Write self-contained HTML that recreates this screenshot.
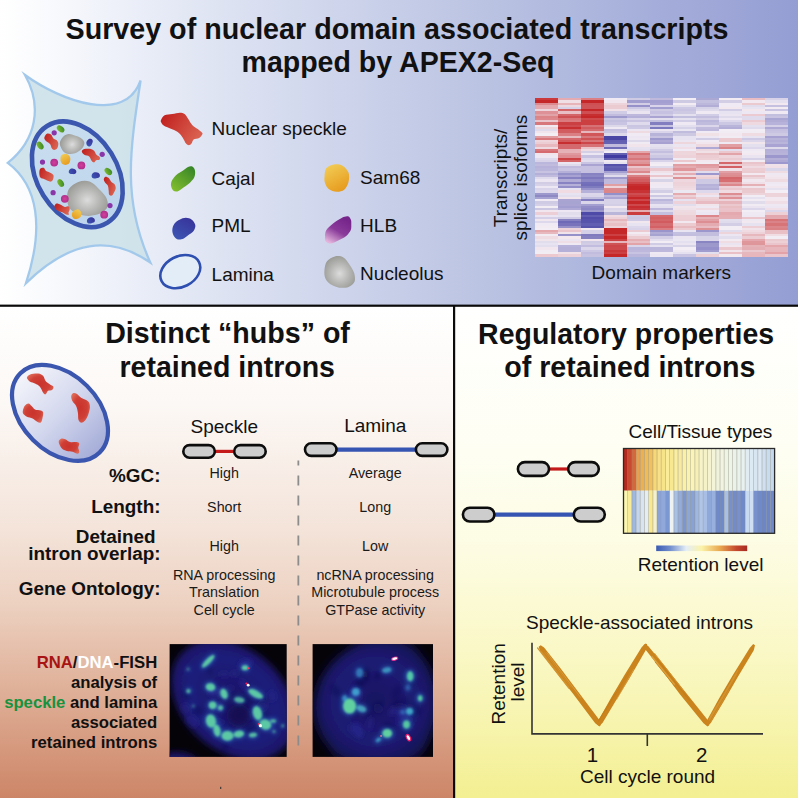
<!DOCTYPE html>
<html>
<head>
<meta charset="utf-8">
<title>Graphical abstract</title>
<style>
html,body{margin:0;padding:0;background:#fff;}
body{width:798px;height:798px;overflow:hidden;font-family:"Liberation Sans",sans-serif;}
svg{display:block;}
text{font-family:"Liberation Sans",sans-serif;fill:#111;}
.b{font-weight:bold;}
.t28{font-size:28.6px;font-weight:bold;}
.t19{font-size:19px;}
.l19{font-size:18.9px;font-weight:bold;}
.t14{font-size:14.3px;fill:#1a1a1a;}
.t16{font-size:16.7px;font-weight:bold;}
</style>
</head>
<body>
<svg width="798" height="798" viewBox="0 0 798 798">
<defs>
  <linearGradient id="gTop" x1="0" y1="0" x2="1" y2="0">
    <stop offset="0" stop-color="#ffffff"/>
    <stop offset="0.06" stop-color="#f9fafd"/>
    <stop offset="0.19" stop-color="#e8ecf7"/>
    <stop offset="0.45" stop-color="#cbd2ea"/>
    <stop offset="0.63" stop-color="#b8c1e1"/>
    <stop offset="0.82" stop-color="#a5aeda"/>
    <stop offset="1" stop-color="#959ed3"/>
  </linearGradient>
  <linearGradient id="gBL" x1="0" y1="0" x2="0" y2="1">
    <stop offset="0" stop-color="#ffffff"/>
    <stop offset="0.2" stop-color="#fcf8f5"/>
    <stop offset="0.45" stop-color="#f4e4da"/>
    <stop offset="0.6" stop-color="#edd2c2"/>
    <stop offset="0.78" stop-color="#dfb098"/>
    <stop offset="1" stop-color="#cd8567"/>
  </linearGradient>
  <linearGradient id="gBR" x1="0" y1="0" x2="0" y2="1">
    <stop offset="0" stop-color="#ffffff"/>
    <stop offset="0.3" stop-color="#fefef3"/>
    <stop offset="0.5" stop-color="#fdfce2"/>
    <stop offset="0.7" stop-color="#faf8c6"/>
    <stop offset="0.85" stop-color="#f7f4ae"/>
    <stop offset="1" stop-color="#f3ef92"/>
  </linearGradient>
  <linearGradient id="gBar" x1="0" y1="0" x2="1" y2="0">
    <stop offset="0" stop-color="#3a5ab2"/>
    <stop offset="0.15" stop-color="#6f8ccc"/>
    <stop offset="0.33" stop-color="#e4eef6"/>
    <stop offset="0.5" stop-color="#fbf3a8"/>
    <stop offset="0.7" stop-color="#e9a850"/>
    <stop offset="0.88" stop-color="#c4482c"/>
    <stop offset="1" stop-color="#a82a22"/>
  </linearGradient>
  <linearGradient id="gSpk" x1="0" y1="0" x2="1" y2="0.5">
    <stop offset="0" stop-color="#bf1b1b"/><stop offset="1" stop-color="#d9604f"/>
  </linearGradient>
  <linearGradient id="gCaj" x1="0.9" y1="0" x2="0.1" y2="1">
    <stop offset="0" stop-color="#358428"/><stop offset="1" stop-color="#84bf2c"/>
  </linearGradient>
  <linearGradient id="gPml" x1="0.8" y1="0" x2="0.2" y2="1">
    <stop offset="0" stop-color="#38339a"/><stop offset="1" stop-color="#3c55b4"/>
  </linearGradient>
  <linearGradient id="gSam" x1="0.2" y1="0" x2="0.7" y2="1">
    <stop offset="0" stop-color="#f2cc55"/><stop offset="1" stop-color="#e69a1c"/>
  </linearGradient>
  <linearGradient id="gHlb" x1="0.75" y1="0.1" x2="0.25" y2="1">
    <stop offset="0" stop-color="#76258a"/><stop offset="0.5" stop-color="#8a3b9a"/><stop offset="1" stop-color="#e3b3dc"/>
  </linearGradient>
  <radialGradient id="gNuc" cx="0.5" cy="0.55" r="0.55">
    <stop offset="0" stop-color="#dcdcdc"/><stop offset="0.6" stop-color="#b4b4b2"/><stop offset="1" stop-color="#9c9c98"/>
  </radialGradient>
  <radialGradient id="gMag" cx="0.5" cy="0.5" r="0.5">
    <stop offset="0" stop-color="#d2409a"/><stop offset="1" stop-color="#b02e8c"/>
  </radialGradient>
  <linearGradient id="gNucl" x1="0" y1="0" x2="1" y2="0">
    <stop offset="0" stop-color="#c9deef"/><stop offset="1" stop-color="#bcd4ec"/>
  </linearGradient>
  <linearGradient id="gNuc2" x1="0" y1="0.5" x2="1" y2="0.5">
    <stop offset="0" stop-color="#f4f5fb"/><stop offset="0.5" stop-color="#d4d8ee"/><stop offset="1" stop-color="#a4acd8"/>
  </linearGradient>
  <radialGradient id="gSpk2" cx="0.5" cy="0.5" r="0.6">
    <stop offset="0" stop-color="#c9332c"/><stop offset="0.6" stop-color="#cf3f35"/><stop offset="1" stop-color="#de6a58"/>
  </radialGradient>
  <radialGradient id="gDapi" cx="0.5" cy="0.5" r="0.55">
    <stop offset="0" stop-color="#191664"/><stop offset="0.65" stop-color="#1f1c7c"/><stop offset="1" stop-color="#17145c"/>
  </radialGradient>
  <radialGradient id="gDapi2" cx="0.5" cy="0.5" r="0.55">
    <stop offset="0" stop-color="#181560"/><stop offset="0.6" stop-color="#1e1b76"/><stop offset="1" stop-color="#141150"/>
  </radialGradient>
  <filter id="bl3" x="-20%" y="-20%" width="140%" height="140%"><feGaussianBlur stdDeviation="3"/></filter>
  <filter id="bl4" x="-20%" y="-20%" width="140%" height="140%"><feGaussianBlur stdDeviation="4.5"/></filter>
  <filter id="bl2" x="-20%" y="-20%" width="140%" height="140%"><feGaussianBlur stdDeviation="2"/></filter>
  <filter id="bl1" x="-20%" y="-20%" width="140%" height="140%"><feGaussianBlur stdDeviation="0.9"/></filter>
  <filter id="bl05" x="-20%" y="-20%" width="140%" height="140%"><feGaussianBlur stdDeviation="0.45"/></filter>
<path id="s_spk" d="M-20.7,-8.8C-20.1,-10.1 -18.8,-12.7 -17.0,-13.7C-15.1,-14.7 -11.9,-14.6 -9.4,-15.0C-6.8,-15.4 -3.8,-16.3 -1.8,-16.3C0.3,-16.3 1.7,-16.0 3.0,-15.0C4.4,-14.0 5.3,-12.0 6.5,-10.2C7.8,-8.4 9.0,-5.7 10.6,-4.0C12.2,-2.3 14.5,-1.2 16.1,0.1C17.8,1.4 19.6,2.7 20.3,3.6C21.1,4.5 21.1,4.7 20.6,5.6C20.2,6.5 19.0,8.3 17.5,9.1C16.1,9.9 13.3,9.6 12.0,10.5C10.8,11.4 10.7,13.6 9.9,14.6C9.1,15.6 8.2,16.3 7.2,16.3C6.3,16.3 5.5,15.9 4.4,14.6C3.4,13.3 2.4,10.4 1.0,8.4C-0.3,6.5 -1.8,4.4 -3.9,2.9C-5.9,1.4 -9.1,0.4 -11.4,-0.6C-13.6,-1.6 -16.1,-2.4 -17.6,-3.3C-19.0,-4.2 -19.5,-5.2 -20.1,-6.1C-20.6,-7.0 -21.2,-7.5 -20.7,-8.8Z"/>
<path id="s_caj" d="M-12.0,6.6C-12.2,4.9 -11.8,3.1 -10.9,1.3C-10.0,-0.5 -8.5,-2.5 -6.7,-4.1C-4.9,-5.7 -2.3,-7.0 -0.3,-8.3C1.6,-9.6 3.4,-11.4 5.0,-12.1C6.6,-12.8 8.1,-13.0 9.3,-12.4C10.5,-11.8 11.7,-10.1 12.0,-8.3C12.3,-6.6 12.2,-3.9 11.4,-1.9C10.6,0.0 9.0,1.7 7.2,3.4C5.4,5.1 2.9,6.7 0.8,8.2C-1.3,9.7 -3.8,11.9 -5.6,12.4C-7.4,12.9 -8.8,12.4 -9.9,11.4C-11.0,10.4 -11.8,8.3 -12.0,6.6Z"/>
<path id="s_pml" d="M-11.5,1.8C-11.5,-0.2 -10.8,-2.8 -9.6,-4.6C-8.4,-6.4 -6.3,-7.9 -4.3,-8.9C-2.4,-9.9 0.0,-10.8 2.1,-10.8C4.1,-10.8 6.4,-10.1 8.0,-8.9C9.6,-7.7 11.2,-5.4 11.5,-3.6C11.8,-1.8 11.1,0.2 10.1,1.8C9.1,3.4 7.0,4.7 5.3,6.0C3.6,7.3 1.9,9.0 0.0,9.8C-1.9,10.6 -4.3,11.2 -5.9,10.8C-7.5,10.4 -8.9,9.1 -9.8,7.6C-10.7,6.1 -11.5,3.8 -11.5,1.8Z"/>
<path id="s_sam" d="M-12.0,-1.2C-11.8,-3.6 -11.9,-7.7 -10.3,-9.8C-8.7,-11.9 -5.3,-13.3 -2.6,-13.7C0.1,-14.1 3.6,-13.8 6.0,-12.4C8.4,-11.0 11.0,-8.2 12.0,-5.5C13.0,-2.8 12.7,1.1 12.0,4.0C11.3,6.9 9.7,10.1 7.7,11.7C5.7,13.3 2.6,13.8 0.0,13.7C-2.6,13.5 -5.9,12.3 -7.8,10.8C-9.7,9.3 -10.8,6.8 -11.5,4.8C-12.2,2.8 -12.2,1.2 -12.0,-1.2Z"/>
<path id="s_hlb" d="M-13.1,6.9C-13.1,5.1 -13.1,2.2 -11.9,0.1C-10.7,-2.0 -8.2,-4.0 -5.9,-5.9C-3.7,-7.8 -0.3,-9.8 1.8,-11.1C3.8,-12.3 5.0,-13.0 6.5,-13.4C7.9,-13.8 9.4,-14.1 10.5,-13.5C11.5,-12.9 12.4,-11.3 12.9,-10.1C13.3,-8.9 13.2,-7.8 13.2,-6.1C13.1,-4.4 13.5,-1.9 12.6,0.1C11.7,2.1 9.8,4.4 7.8,6.1C5.7,7.8 2.6,9.2 0.1,10.4C-2.5,11.6 -5.6,13.4 -7.6,13.5C-9.7,13.6 -11.5,12.3 -12.4,11.2C-13.4,10.1 -13.2,8.8 -13.1,6.9Z"/>
<path id="s_nuc" d="M-15.0,-2.2C-14.7,-5.1 -14.2,-8.6 -12.5,-10.8C-10.8,-13.1 -7.4,-15.0 -4.7,-15.6C-2.0,-16.3 1.5,-16.0 3.9,-14.6C6.3,-13.3 8.1,-10.1 9.9,-7.4C11.7,-4.8 13.8,-1.7 14.7,1.2C15.5,4.0 15.9,7.5 15.0,9.8C14.1,12.0 11.6,13.9 9.0,14.9C6.4,15.8 2.6,16.1 -0.4,15.7C-3.4,15.2 -6.7,13.8 -9.0,12.3C-11.3,10.7 -13.2,8.7 -14.2,6.3C-15.2,3.8 -15.3,0.6 -15.0,-2.2Z"/>
</defs>

<!-- backgrounds -->
<rect x="0" y="0" width="798" height="306" fill="url(#gTop)"/>
<rect x="0" y="306" width="454" height="492" fill="url(#gBL)"/>
<rect x="454" y="306" width="344" height="492" fill="url(#gBR)"/>
<!-- borders -->
<rect x="0" y="304.6" width="798" height="2.2" fill="#0a0a0a"/>
<rect x="453" y="305" width="2.2" height="493" fill="#0a0a0a"/>

<!-- ============ TOP PANEL ============ -->
<text class="t28" x="65.5" y="38.8" textLength="663" lengthAdjust="spacingAndGlyphs">Survey of nuclear domain associated transcripts</text>
<text class="t28" x="241.5" y="71.8" textLength="313" lengthAdjust="spacingAndGlyphs">mapped by APEX2-Seq</text>

<path d="M25,75 C60,100.5 125,125 140.6,80.5 C130,150 122,200 150.3,262.5 C110,235 70,240 26,283.2 C44,228 38.5,186 7.8,162.9 C36.5,140 42.5,106 25,75Z" fill="#cde1e9" fill-opacity=".9" stroke="#a2c9eb" stroke-width="2.3" stroke-linejoin="miter" stroke-miterlimit="10"/>
<ellipse cx="77.3" cy="174.3" rx="57" ry="40" transform="rotate(58 77.3 174.3)" fill="url(#gNucl)" stroke="#3a56ae" stroke-width="4.6"/>
<use href="#s_nuc" transform="translate(71.5,143.6) rotate(-35) scale(0.740,0.660)" fill="url(#gNuc)"/>
<use href="#s_nuc" transform="translate(86.8,198.4) rotate(-8) scale(1.300,1.120)" fill="url(#gNuc)"/>
<path d="M44.5,136.9C44.9,136.0 45.8,134.1 46.9,133.7C48.0,133.3 49.9,133.7 51.0,134.5C52.1,135.3 52.5,137.6 53.4,138.5C54.3,139.4 55.9,139.4 56.7,140.2C57.5,141.0 58.2,142.1 58.3,143.4C58.4,144.8 57.9,147.2 57.2,148.3C56.5,149.4 55.1,149.9 54.2,149.9C53.3,149.9 52.5,149.2 51.8,148.3C51.1,147.4 51.0,145.3 50.2,144.2C49.4,143.1 47.8,142.6 46.9,141.8C46.0,141.0 45.2,140.2 44.8,139.4C44.4,138.6 44.1,137.8 44.5,136.9Z" fill="url(#gSpk)"/>
<path d="M81.8,151.5C81.8,150.6 82.9,149.6 84.3,149.1C85.7,148.6 88.4,148.5 90.0,148.8C91.6,149.1 93.0,149.7 94.1,150.7C95.2,151.7 95.5,153.7 96.5,154.8C97.5,155.9 99.3,156.4 99.8,157.2C100.3,158.0 100.0,159.2 99.4,159.7C98.8,160.2 97.1,159.8 96.2,160.2C95.3,160.6 94.9,162.3 94.1,162.4C93.3,162.5 92.4,161.8 91.6,160.8C90.8,159.8 90.4,157.4 89.2,156.4C88.0,155.4 85.5,155.6 84.3,154.8C83.1,154.0 81.8,152.4 81.8,151.5Z" fill="url(#gSpk)"/>
<path d="M39.3,172.7C39.3,171.2 39.7,169.4 40.4,168.6C41.1,167.8 42.8,167.4 43.7,167.8C44.7,168.2 45.0,170.3 46.1,171.1C47.2,171.9 49.0,172.0 50.2,172.7C51.4,173.4 52.9,174.0 53.4,175.1C53.9,176.2 53.5,178.1 53.1,179.2C52.7,180.3 51.9,181.3 51.0,181.6C50.1,181.9 48.8,181.2 47.7,180.8C46.6,180.4 45.7,179.7 44.5,179.2C43.3,178.7 41.3,178.7 40.4,177.6C39.5,176.5 39.3,174.2 39.3,172.7Z" fill="url(#gSpk)"/>
<path d="M103.8,179.3C103.9,178.3 104.7,177.0 105.5,176.8C106.3,176.6 107.8,177.3 108.7,178.1C109.7,178.9 110.2,180.7 111.2,181.7C112.2,182.7 113.7,183.0 114.4,184.1C115.2,185.2 115.8,186.8 115.7,188.2C115.7,189.6 114.7,191.1 114.1,192.3C113.5,193.5 112.8,195.1 112.0,195.5C111.2,195.9 109.8,195.5 109.2,194.7C108.7,193.9 108.9,192.2 108.7,190.7C108.5,189.2 108.5,187.2 107.9,185.8C107.3,184.4 105.7,183.6 105.0,182.5C104.3,181.4 103.7,180.2 103.8,179.3Z" fill="url(#gSpk)"/>
<path d="M54.5,206.0C54.7,205.1 55.6,203.8 56.6,203.6C57.6,203.4 59.3,204.2 60.7,204.7C62.1,205.2 63.4,206.6 64.8,206.9C66.1,207.2 68.0,206.0 68.8,206.4C69.6,206.8 69.8,208.3 69.7,209.3C69.7,210.3 68.7,211.7 68.5,212.6C68.3,213.5 69.3,214.4 68.8,214.7C68.3,215.0 66.7,214.6 65.6,214.2C64.5,213.8 63.5,212.8 62.3,212.2C61.1,211.7 59.4,211.4 58.3,210.9C57.2,210.4 56.1,209.8 55.5,209.0C54.9,208.2 54.3,206.9 54.5,206.0Z" fill="url(#gSpk)"/>
<ellipse cx="60.6" cy="128.9" rx="4.3" ry="2.8" transform="rotate(40 60.6 128.9)" fill="url(#gCaj)"/>
<ellipse cx="40.1" cy="145.5" rx="4.3" ry="2.8" transform="rotate(52 40.1 145.5)" fill="url(#gCaj)"/>
<ellipse cx="108.3" cy="171.5" rx="4.3" ry="2.8" transform="rotate(40 108.3 171.5)" fill="url(#gCaj)"/>
<ellipse cx="60.7" cy="183" rx="4.3" ry="2.8" transform="rotate(57 60.7 183)" fill="url(#gCaj)"/>
<use href="#s_sam" transform="translate(65.3,159.4) rotate(0) scale(0.400)" fill="url(#gSam)"/>
<use href="#s_sam" transform="translate(76.6,214.2) rotate(60) scale(0.360)" fill="url(#gSam)"/>
<use href="#s_pml" transform="translate(89.7,142.6) rotate(-30) scale(0.320)" fill="url(#gPml)"/>
<use href="#s_pml" transform="translate(72.6,171.6) rotate(40) scale(0.310)" fill="url(#gPml)"/>
<use href="#s_pml" transform="translate(95.8,175.5) rotate(30) scale(0.340)" fill="url(#gPml)"/>
<use href="#s_pml" transform="translate(90.9,220.6) rotate(25) scale(0.330)" fill="url(#gPml)"/>
<circle cx="54.2" cy="162.6" r="3.9" fill="url(#gMag)"/>
<circle cx="81.4" cy="165.4" r="3.9" fill="url(#gMag)"/>
<circle cx="64.8" cy="198.8" r="3.9" fill="url(#gMag)"/>
<circle cx="104.2" cy="214.7" r="3.9" fill="url(#gMag)"/>
<circle cx="54.2" cy="132.8" r="2.6" fill="#8a35a8"/>
<circle cx="102.2" cy="154.3" r="2.6" fill="#8a35a8"/>
<circle cx="42.5" cy="162.1" r="2.6" fill="#8a35a8"/>
<circle cx="53.1" cy="192.7" r="2.6" fill="#8a35a8"/>
<circle cx="110" cy="205.6" r="2.6" fill="#8a35a8"/>

<use href="#s_spk" transform="translate(181.6,129.0) rotate(0) scale(1.000)" fill="url(#gSpk)"/>
<use href="#s_caj" transform="translate(183.0,179.0) rotate(0) scale(1.000)" fill="url(#gCaj)"/>
<use href="#s_pml" transform="translate(183.8,228.6) rotate(0) scale(1.000)" fill="url(#gPml)"/>
<use href="#s_sam" transform="translate(336.5,178.1) rotate(0) scale(1.000)" fill="url(#gSam)"/>
<use href="#s_hlb" transform="translate(338.1,230.1) rotate(0) scale(1.000)" fill="url(#gHlb)"/>
<use href="#s_nuc" transform="translate(339.5,272.0) rotate(0) scale(1.000)" fill="url(#gNuc)"/>
<ellipse cx="180.3" cy="271.6" rx="21" ry="15.3" transform="rotate(-27 180.3 271.6)" fill="#e3edf7" stroke="#2f4fb0" stroke-width="2.6"/>
<text class="t19" x="211.6" y="134.6">Nuclear speckle</text>
<text class="t19" x="211.6" y="185.2">Cajal</text>
<text class="t19" x="211.6" y="232.3">PML</text>
<text class="t19" x="211.6" y="280.5">Lamina</text>
<text class="t19" x="360.1" y="183.9">Sam68</text>
<text class="t19" x="360.1" y="232.2">HLB</text>
<text class="t19" x="360.1" y="279.9">Nucleolus</text>

<!-- heatmap -->
<g shape-rendering="crispEdges">
<rect x="535.0" y="98.30" width="23.3" height="2.49" fill="#ca3a3d"/>
<rect x="535.0" y="100.49" width="23.3" height="2.49" fill="#c52628"/>
<rect x="535.0" y="102.69" width="23.3" height="2.49" fill="#dc8a8f"/>
<rect x="535.0" y="104.88" width="23.3" height="2.49" fill="#e3a7ac"/>
<rect x="535.0" y="107.07" width="23.3" height="2.49" fill="#e3a9ae"/>
<rect x="535.0" y="109.27" width="23.3" height="2.49" fill="#edd6dc"/>
<rect x="535.0" y="111.46" width="23.3" height="2.49" fill="#de9196"/>
<rect x="535.0" y="113.65" width="23.3" height="2.49" fill="#e2a3a8"/>
<rect x="535.0" y="115.84" width="23.3" height="2.49" fill="#db8589"/>
<rect x="535.0" y="118.04" width="23.3" height="2.49" fill="#dc888c"/>
<rect x="535.0" y="120.23" width="23.3" height="2.49" fill="#e9c4ca"/>
<rect x="535.0" y="122.42" width="23.3" height="2.49" fill="#d8777b"/>
<rect x="535.0" y="124.62" width="23.3" height="2.49" fill="#f2e9f0"/>
<rect x="535.0" y="126.81" width="23.3" height="2.49" fill="#edd5dc"/>
<rect x="535.0" y="129.00" width="23.3" height="2.49" fill="#e0dbec"/>
<rect x="535.0" y="131.20" width="23.3" height="2.49" fill="#f1e4eb"/>
<rect x="535.0" y="133.39" width="23.3" height="2.49" fill="#f3edf4"/>
<rect x="535.0" y="135.58" width="23.3" height="2.49" fill="#e09ea3"/>
<rect x="535.0" y="137.77" width="23.3" height="2.49" fill="#d8787c"/>
<rect x="535.0" y="139.97" width="23.3" height="2.49" fill="#edd5db"/>
<rect x="535.0" y="142.16" width="23.3" height="2.49" fill="#ebcdd3"/>
<rect x="535.0" y="144.35" width="23.3" height="2.49" fill="#e7b9be"/>
<rect x="535.0" y="146.55" width="23.3" height="2.49" fill="#eed9e0"/>
<rect x="535.0" y="148.74" width="23.3" height="2.49" fill="#d8787c"/>
<rect x="535.0" y="150.93" width="23.3" height="2.49" fill="#d56b6f"/>
<rect x="535.0" y="153.13" width="23.3" height="2.49" fill="#f1e4ea"/>
<rect x="535.0" y="155.32" width="23.3" height="2.49" fill="#ede8f2"/>
<rect x="535.0" y="157.51" width="23.3" height="2.49" fill="#ded9eb"/>
<rect x="535.0" y="159.71" width="23.3" height="2.49" fill="#d8d3e8"/>
<rect x="535.0" y="161.90" width="23.3" height="2.49" fill="#bbb6db"/>
<rect x="535.0" y="164.09" width="23.3" height="2.49" fill="#c1bcde"/>
<rect x="535.0" y="166.28" width="23.3" height="2.49" fill="#b7b2d9"/>
<rect x="535.0" y="168.48" width="23.3" height="2.49" fill="#bab5da"/>
<rect x="535.0" y="170.67" width="23.3" height="2.49" fill="#c8c3e1"/>
<rect x="535.0" y="172.86" width="23.3" height="2.49" fill="#b4b0d8"/>
<rect x="535.0" y="175.06" width="23.3" height="2.49" fill="#c1bcde"/>
<rect x="535.0" y="177.25" width="23.3" height="2.49" fill="#e0dbec"/>
<rect x="535.0" y="179.44" width="23.3" height="2.49" fill="#ebe6f1"/>
<rect x="535.0" y="181.64" width="23.3" height="2.49" fill="#d2cde5"/>
<rect x="535.0" y="183.83" width="23.3" height="2.49" fill="#d7d2e8"/>
<rect x="535.0" y="186.02" width="23.3" height="2.49" fill="#ece7f2"/>
<rect x="535.0" y="188.22" width="23.3" height="2.49" fill="#d9d4e9"/>
<rect x="535.0" y="190.41" width="23.3" height="2.49" fill="#ddd8eb"/>
<rect x="535.0" y="192.60" width="23.3" height="2.49" fill="#9e99cd"/>
<rect x="535.0" y="194.79" width="23.3" height="2.49" fill="#8e89c5"/>
<rect x="535.0" y="196.99" width="23.3" height="2.49" fill="#a6a2d1"/>
<rect x="535.0" y="199.18" width="23.3" height="2.49" fill="#efeaf3"/>
<rect x="535.0" y="201.37" width="23.3" height="2.49" fill="#d0cbe5"/>
<rect x="535.0" y="203.57" width="23.3" height="2.49" fill="#d5d0e7"/>
<rect x="535.0" y="205.76" width="23.3" height="2.49" fill="#f2ecf3"/>
<rect x="535.0" y="207.95" width="23.3" height="2.49" fill="#cbc6e2"/>
<rect x="535.0" y="210.15" width="23.3" height="2.49" fill="#f1e6ed"/>
<rect x="535.0" y="212.34" width="23.3" height="2.49" fill="#eccfd6"/>
<rect x="535.0" y="214.53" width="23.3" height="2.49" fill="#eae5f1"/>
<rect x="535.0" y="216.72" width="23.3" height="2.49" fill="#d5d0e7"/>
<rect x="535.0" y="218.92" width="23.3" height="2.49" fill="#f1e7ee"/>
<rect x="535.0" y="221.11" width="23.3" height="2.49" fill="#ddd8eb"/>
<rect x="535.0" y="223.30" width="23.3" height="2.49" fill="#efeaf3"/>
<rect x="535.0" y="225.50" width="23.3" height="2.49" fill="#f2ebf2"/>
<rect x="535.0" y="227.69" width="23.3" height="2.49" fill="#f3eef5"/>
<rect x="535.0" y="229.88" width="23.3" height="2.49" fill="#e3a7ac"/>
<rect x="535.0" y="232.08" width="23.3" height="2.49" fill="#e7b8be"/>
<rect x="535.0" y="234.27" width="23.3" height="2.49" fill="#f2ebf2"/>
<rect x="535.0" y="236.46" width="23.3" height="2.49" fill="#efdce2"/>
<rect x="535.0" y="238.66" width="23.3" height="2.49" fill="#f1e5ec"/>
<rect x="535.0" y="240.85" width="23.3" height="2.49" fill="#e2dded"/>
<rect x="535.0" y="243.04" width="23.3" height="2.49" fill="#e8e3f0"/>
<rect x="535.0" y="245.23" width="23.3" height="2.49" fill="#e3deee"/>
<rect x="535.0" y="247.43" width="23.3" height="2.49" fill="#f1e6ed"/>
<rect x="535.0" y="249.62" width="23.3" height="2.49" fill="#f1ecf4"/>
<rect x="535.0" y="251.81" width="23.3" height="2.49" fill="#f2ecf3"/>
<rect x="535.0" y="254.01" width="23.3" height="2.49" fill="#ebc9cf"/>
<rect x="558.0" y="98.30" width="23.3" height="2.49" fill="#e4acb2"/>
<rect x="558.0" y="100.49" width="23.3" height="2.49" fill="#f0e0e6"/>
<rect x="558.0" y="102.69" width="23.3" height="2.49" fill="#e6b4b9"/>
<rect x="558.0" y="104.88" width="23.3" height="2.49" fill="#eed8df"/>
<rect x="558.0" y="107.07" width="23.3" height="2.49" fill="#d7d2e8"/>
<rect x="558.0" y="109.27" width="23.3" height="2.49" fill="#d36568"/>
<rect x="558.0" y="111.46" width="23.3" height="2.49" fill="#e8bfc5"/>
<rect x="558.0" y="113.65" width="23.3" height="2.49" fill="#d36568"/>
<rect x="558.0" y="115.84" width="23.3" height="2.49" fill="#cf5053"/>
<rect x="558.0" y="118.04" width="23.3" height="2.49" fill="#d77579"/>
<rect x="558.0" y="120.23" width="23.3" height="2.49" fill="#d97b7f"/>
<rect x="558.0" y="122.42" width="23.3" height="2.49" fill="#cb3f42"/>
<rect x="558.0" y="124.62" width="23.3" height="2.49" fill="#ce4c4f"/>
<rect x="558.0" y="126.81" width="23.3" height="2.49" fill="#c72e30"/>
<rect x="558.0" y="129.00" width="23.3" height="2.49" fill="#d15b5e"/>
<rect x="558.0" y="131.20" width="23.3" height="2.49" fill="#d25d60"/>
<rect x="558.0" y="133.39" width="23.3" height="2.49" fill="#da8085"/>
<rect x="558.0" y="135.58" width="23.3" height="2.49" fill="#e7babf"/>
<rect x="558.0" y="137.77" width="23.3" height="2.49" fill="#d4686c"/>
<rect x="558.0" y="139.97" width="23.3" height="2.49" fill="#d15a5d"/>
<rect x="558.0" y="142.16" width="23.3" height="2.49" fill="#c72e30"/>
<rect x="558.0" y="144.35" width="23.3" height="2.49" fill="#d4696d"/>
<rect x="558.0" y="146.55" width="23.3" height="2.49" fill="#d4686c"/>
<rect x="558.0" y="148.74" width="23.3" height="2.49" fill="#e5b1b6"/>
<rect x="558.0" y="150.93" width="23.3" height="2.49" fill="#e5b2b8"/>
<rect x="558.0" y="153.13" width="23.3" height="2.49" fill="#df999e"/>
<rect x="558.0" y="155.32" width="23.3" height="2.49" fill="#dd8c91"/>
<rect x="558.0" y="157.51" width="23.3" height="2.49" fill="#cb4144"/>
<rect x="558.0" y="159.71" width="23.3" height="2.49" fill="#d36568"/>
<rect x="558.0" y="161.90" width="23.3" height="2.49" fill="#eae5f1"/>
<rect x="558.0" y="164.09" width="23.3" height="2.49" fill="#e0dbec"/>
<rect x="558.0" y="166.28" width="23.3" height="2.49" fill="#c1bcde"/>
<rect x="558.0" y="168.48" width="23.3" height="2.49" fill="#c9c4e1"/>
<rect x="558.0" y="170.67" width="23.3" height="2.49" fill="#b5b0d8"/>
<rect x="558.0" y="172.86" width="23.3" height="2.49" fill="#9591c9"/>
<rect x="558.0" y="175.06" width="23.3" height="2.49" fill="#a7a2d1"/>
<rect x="558.0" y="177.25" width="23.3" height="2.49" fill="#8783c2"/>
<rect x="558.0" y="179.44" width="23.3" height="2.49" fill="#b1acd6"/>
<rect x="558.0" y="181.64" width="23.3" height="2.49" fill="#8884c3"/>
<rect x="558.0" y="183.83" width="23.3" height="2.49" fill="#b5b0d8"/>
<rect x="558.0" y="186.02" width="23.3" height="2.49" fill="#938ec8"/>
<rect x="558.0" y="188.22" width="23.3" height="2.49" fill="#e8e3f0"/>
<rect x="558.0" y="190.41" width="23.3" height="2.49" fill="#efdbe1"/>
<rect x="558.0" y="192.60" width="23.3" height="2.49" fill="#e8e3f0"/>
<rect x="558.0" y="194.79" width="23.3" height="2.49" fill="#e3deed"/>
<rect x="558.0" y="196.99" width="23.3" height="2.49" fill="#f1e4eb"/>
<rect x="558.0" y="199.18" width="23.3" height="2.49" fill="#a9a4d2"/>
<rect x="558.0" y="201.37" width="23.3" height="2.49" fill="#a8a4d2"/>
<rect x="558.0" y="203.57" width="23.3" height="2.49" fill="#a9a4d2"/>
<rect x="558.0" y="205.76" width="23.3" height="2.49" fill="#a29ecf"/>
<rect x="558.0" y="207.95" width="23.3" height="2.49" fill="#aea9d5"/>
<rect x="558.0" y="210.15" width="23.3" height="2.49" fill="#ece7f2"/>
<rect x="558.0" y="212.34" width="23.3" height="2.49" fill="#e2dded"/>
<rect x="558.0" y="214.53" width="23.3" height="2.49" fill="#e7e2ef"/>
<rect x="558.0" y="216.72" width="23.3" height="2.49" fill="#d0cbe4"/>
<rect x="558.0" y="218.92" width="23.3" height="2.49" fill="#8682c2"/>
<rect x="558.0" y="221.11" width="23.3" height="2.49" fill="#6f6ab7"/>
<rect x="558.0" y="223.30" width="23.3" height="2.49" fill="#7873bb"/>
<rect x="558.0" y="225.50" width="23.3" height="2.49" fill="#9691c9"/>
<rect x="558.0" y="227.69" width="23.3" height="2.49" fill="#edd4db"/>
<rect x="558.0" y="229.88" width="23.3" height="2.49" fill="#eac6cc"/>
<rect x="558.0" y="232.08" width="23.3" height="2.49" fill="#f0e3e9"/>
<rect x="558.0" y="234.27" width="23.3" height="2.49" fill="#9692c9"/>
<rect x="558.0" y="236.46" width="23.3" height="2.49" fill="#f2e8ee"/>
<rect x="558.0" y="238.66" width="23.3" height="2.49" fill="#eae5f1"/>
<rect x="558.0" y="240.85" width="23.3" height="2.49" fill="#efdee5"/>
<rect x="558.0" y="243.04" width="23.3" height="2.49" fill="#eee9f2"/>
<rect x="558.0" y="245.23" width="23.3" height="2.49" fill="#b6b2d9"/>
<rect x="558.0" y="247.43" width="23.3" height="2.49" fill="#b3afd7"/>
<rect x="558.0" y="249.62" width="23.3" height="2.49" fill="#b5b0d8"/>
<rect x="558.0" y="251.81" width="23.3" height="2.49" fill="#f0e0e7"/>
<rect x="558.0" y="254.01" width="23.3" height="2.49" fill="#ecd1d8"/>
<rect x="580.9" y="98.30" width="23.3" height="2.49" fill="#da7f84"/>
<rect x="580.9" y="100.49" width="23.3" height="2.49" fill="#c52628"/>
<rect x="580.9" y="102.69" width="23.3" height="2.49" fill="#cf5053"/>
<rect x="580.9" y="104.88" width="23.3" height="2.49" fill="#cf5457"/>
<rect x="580.9" y="107.07" width="23.3" height="2.49" fill="#cf5457"/>
<rect x="580.9" y="109.27" width="23.3" height="2.49" fill="#c52628"/>
<rect x="580.9" y="111.46" width="23.3" height="2.49" fill="#ce4e51"/>
<rect x="580.9" y="113.65" width="23.3" height="2.49" fill="#c72e30"/>
<rect x="580.9" y="115.84" width="23.3" height="2.49" fill="#c52628"/>
<rect x="580.9" y="118.04" width="23.3" height="2.49" fill="#cd4a4d"/>
<rect x="580.9" y="120.23" width="23.3" height="2.49" fill="#cb3f41"/>
<rect x="580.9" y="122.42" width="23.3" height="2.49" fill="#cb3f42"/>
<rect x="580.9" y="124.62" width="23.3" height="2.49" fill="#d67276"/>
<rect x="580.9" y="126.81" width="23.3" height="2.49" fill="#d15c5f"/>
<rect x="580.9" y="129.00" width="23.3" height="2.49" fill="#d56c70"/>
<rect x="580.9" y="131.20" width="23.3" height="2.49" fill="#e6b7bd"/>
<rect x="580.9" y="133.39" width="23.3" height="2.49" fill="#d05659"/>
<rect x="580.9" y="135.58" width="23.3" height="2.49" fill="#d8777b"/>
<rect x="580.9" y="137.77" width="23.3" height="2.49" fill="#cf5255"/>
<rect x="580.9" y="139.97" width="23.3" height="2.49" fill="#d77478"/>
<rect x="580.9" y="142.16" width="23.3" height="2.49" fill="#cd474a"/>
<rect x="580.9" y="144.35" width="23.3" height="2.49" fill="#d67276"/>
<rect x="580.9" y="146.55" width="23.3" height="2.49" fill="#eac6cc"/>
<rect x="580.9" y="148.74" width="23.3" height="2.49" fill="#efdce2"/>
<rect x="580.9" y="150.93" width="23.3" height="2.49" fill="#d4cfe6"/>
<rect x="580.9" y="153.13" width="23.3" height="2.49" fill="#ebe6f1"/>
<rect x="580.9" y="155.32" width="23.3" height="2.49" fill="#c6c1e0"/>
<rect x="580.9" y="157.51" width="23.3" height="2.49" fill="#dcd7ea"/>
<rect x="580.9" y="159.71" width="23.3" height="2.49" fill="#e3deed"/>
<rect x="580.9" y="161.90" width="23.3" height="2.49" fill="#c9c4e1"/>
<rect x="580.9" y="164.09" width="23.3" height="2.49" fill="#a9a4d2"/>
<rect x="580.9" y="166.28" width="23.3" height="2.49" fill="#c6c1e0"/>
<rect x="580.9" y="168.48" width="23.3" height="2.49" fill="#c6c1e0"/>
<rect x="580.9" y="170.67" width="23.3" height="2.49" fill="#c5c0e0"/>
<rect x="580.9" y="172.86" width="23.3" height="2.49" fill="#8782c2"/>
<rect x="580.9" y="175.06" width="23.3" height="2.49" fill="#8c88c5"/>
<rect x="580.9" y="177.25" width="23.3" height="2.49" fill="#7d78bd"/>
<rect x="580.9" y="179.44" width="23.3" height="2.49" fill="#8b86c4"/>
<rect x="580.9" y="181.64" width="23.3" height="2.49" fill="#7470b9"/>
<rect x="580.9" y="183.83" width="23.3" height="2.49" fill="#716db8"/>
<rect x="580.9" y="186.02" width="23.3" height="2.49" fill="#7f7bbf"/>
<rect x="580.9" y="188.22" width="23.3" height="2.49" fill="#9893ca"/>
<rect x="580.9" y="190.41" width="23.3" height="2.49" fill="#b6b1d8"/>
<rect x="580.9" y="192.60" width="23.3" height="2.49" fill="#dcd7ea"/>
<rect x="580.9" y="194.79" width="23.3" height="2.49" fill="#dad5e9"/>
<rect x="580.9" y="196.99" width="23.3" height="2.49" fill="#c2bede"/>
<rect x="580.9" y="199.18" width="23.3" height="2.49" fill="#817dc0"/>
<rect x="580.9" y="201.37" width="23.3" height="2.49" fill="#dad5e9"/>
<rect x="580.9" y="203.57" width="23.3" height="2.49" fill="#a39fd0"/>
<rect x="580.9" y="205.76" width="23.3" height="2.49" fill="#928dc7"/>
<rect x="580.9" y="207.95" width="23.3" height="2.49" fill="#8c88c5"/>
<rect x="580.9" y="210.15" width="23.3" height="2.49" fill="#9c98cc"/>
<rect x="580.9" y="212.34" width="23.3" height="2.49" fill="#4e4aa7"/>
<rect x="580.9" y="214.53" width="23.3" height="2.49" fill="#625eb1"/>
<rect x="580.9" y="216.72" width="23.3" height="2.49" fill="#514da9"/>
<rect x="580.9" y="218.92" width="23.3" height="2.49" fill="#5753ac"/>
<rect x="580.9" y="221.11" width="23.3" height="2.49" fill="#5854ac"/>
<rect x="580.9" y="223.30" width="23.3" height="2.49" fill="#625eb1"/>
<rect x="580.9" y="225.50" width="23.3" height="2.49" fill="#5955ad"/>
<rect x="580.9" y="227.69" width="23.3" height="2.49" fill="#f2e8ef"/>
<rect x="580.9" y="229.88" width="23.3" height="2.49" fill="#d4d0e7"/>
<rect x="580.9" y="232.08" width="23.3" height="2.49" fill="#d5d0e7"/>
<rect x="580.9" y="234.27" width="23.3" height="2.49" fill="#807bbf"/>
<rect x="580.9" y="236.46" width="23.3" height="2.49" fill="#8581c1"/>
<rect x="580.9" y="238.66" width="23.3" height="2.49" fill="#f1e6ed"/>
<rect x="580.9" y="240.85" width="23.3" height="2.49" fill="#cecae4"/>
<rect x="580.9" y="243.04" width="23.3" height="2.49" fill="#d2cde5"/>
<rect x="580.9" y="245.23" width="23.3" height="2.49" fill="#c2bdde"/>
<rect x="580.9" y="247.43" width="23.3" height="2.49" fill="#dbd6ea"/>
<rect x="580.9" y="249.62" width="23.3" height="2.49" fill="#ccc7e3"/>
<rect x="580.9" y="251.81" width="23.3" height="2.49" fill="#c2bdde"/>
<rect x="580.9" y="254.01" width="23.3" height="2.49" fill="#c6c2e0"/>
<rect x="603.9" y="98.30" width="23.3" height="2.49" fill="#efeaf3"/>
<rect x="603.9" y="100.49" width="23.3" height="2.49" fill="#f1e6ed"/>
<rect x="603.9" y="102.69" width="23.3" height="2.49" fill="#edd4db"/>
<rect x="603.9" y="104.88" width="23.3" height="2.49" fill="#ebcad0"/>
<rect x="603.9" y="107.07" width="23.3" height="2.49" fill="#ebccd3"/>
<rect x="603.9" y="109.27" width="23.3" height="2.49" fill="#f0e0e7"/>
<rect x="603.9" y="111.46" width="23.3" height="2.49" fill="#d0cce5"/>
<rect x="603.9" y="113.65" width="23.3" height="2.49" fill="#c2bdde"/>
<rect x="603.9" y="115.84" width="23.3" height="2.49" fill="#9e99cd"/>
<rect x="603.9" y="118.04" width="23.3" height="2.49" fill="#cbc6e2"/>
<rect x="603.9" y="120.23" width="23.3" height="2.49" fill="#c2bede"/>
<rect x="603.9" y="122.42" width="23.3" height="2.49" fill="#c9c4e1"/>
<rect x="603.9" y="124.62" width="23.3" height="2.49" fill="#dcd8ea"/>
<rect x="603.9" y="126.81" width="23.3" height="2.49" fill="#eee9f3"/>
<rect x="603.9" y="129.00" width="23.3" height="2.49" fill="#c4bfdf"/>
<rect x="603.9" y="131.20" width="23.3" height="2.49" fill="#c9c4e1"/>
<rect x="603.9" y="133.39" width="23.3" height="2.49" fill="#ddd8ea"/>
<rect x="603.9" y="135.58" width="23.3" height="2.49" fill="#4a46a6"/>
<rect x="603.9" y="137.77" width="23.3" height="2.49" fill="#4945a5"/>
<rect x="603.9" y="139.97" width="23.3" height="2.49" fill="#625eb1"/>
<rect x="603.9" y="142.16" width="23.3" height="2.49" fill="#6662b3"/>
<rect x="603.9" y="144.35" width="23.3" height="2.49" fill="#c1bcdd"/>
<rect x="603.9" y="146.55" width="23.3" height="2.49" fill="#706cb7"/>
<rect x="603.9" y="148.74" width="23.3" height="2.49" fill="#e7e2ef"/>
<rect x="603.9" y="150.93" width="23.3" height="2.49" fill="#f2edf5"/>
<rect x="603.9" y="153.13" width="23.3" height="2.49" fill="#6460b2"/>
<rect x="603.9" y="155.32" width="23.3" height="2.49" fill="#3f3ba0"/>
<rect x="603.9" y="157.51" width="23.3" height="2.49" fill="#6460b2"/>
<rect x="603.9" y="159.71" width="23.3" height="2.49" fill="#f2eaf1"/>
<rect x="603.9" y="161.90" width="23.3" height="2.49" fill="#e6e2ef"/>
<rect x="603.9" y="164.09" width="23.3" height="2.49" fill="#5551ab"/>
<rect x="603.9" y="166.28" width="23.3" height="2.49" fill="#6662b3"/>
<rect x="603.9" y="168.48" width="23.3" height="2.49" fill="#5f5baf"/>
<rect x="603.9" y="170.67" width="23.3" height="2.49" fill="#a39fd0"/>
<rect x="603.9" y="172.86" width="23.3" height="2.49" fill="#c3bede"/>
<rect x="603.9" y="175.06" width="23.3" height="2.49" fill="#e0dbec"/>
<rect x="603.9" y="177.25" width="23.3" height="2.49" fill="#9f9acd"/>
<rect x="603.9" y="179.44" width="23.3" height="2.49" fill="#bfbadd"/>
<rect x="603.9" y="181.64" width="23.3" height="2.49" fill="#bfbadd"/>
<rect x="603.9" y="183.83" width="23.3" height="2.49" fill="#e19fa4"/>
<rect x="603.9" y="186.02" width="23.3" height="2.49" fill="#edd4db"/>
<rect x="603.9" y="188.22" width="23.3" height="2.49" fill="#dc898e"/>
<rect x="603.9" y="190.41" width="23.3" height="2.49" fill="#db8589"/>
<rect x="603.9" y="192.60" width="23.3" height="2.49" fill="#938fc8"/>
<rect x="603.9" y="194.79" width="23.3" height="2.49" fill="#beb9dc"/>
<rect x="603.9" y="196.99" width="23.3" height="2.49" fill="#aaa5d3"/>
<rect x="603.9" y="199.18" width="23.3" height="2.49" fill="#d7d2e8"/>
<rect x="603.9" y="201.37" width="23.3" height="2.49" fill="#d7d2e8"/>
<rect x="603.9" y="203.57" width="23.3" height="2.49" fill="#d3cee6"/>
<rect x="603.9" y="205.76" width="23.3" height="2.49" fill="#f2e8ef"/>
<rect x="603.9" y="207.95" width="23.3" height="2.49" fill="#dad5e9"/>
<rect x="603.9" y="210.15" width="23.3" height="2.49" fill="#ded9eb"/>
<rect x="603.9" y="212.34" width="23.3" height="2.49" fill="#bab6da"/>
<rect x="603.9" y="214.53" width="23.3" height="2.49" fill="#efdbe1"/>
<rect x="603.9" y="216.72" width="23.3" height="2.49" fill="#edd3d9"/>
<rect x="603.9" y="218.92" width="23.3" height="2.49" fill="#e6b7bd"/>
<rect x="603.9" y="221.11" width="23.3" height="2.49" fill="#ebcad0"/>
<rect x="603.9" y="223.30" width="23.3" height="2.49" fill="#e8c0c5"/>
<rect x="603.9" y="225.50" width="23.3" height="2.49" fill="#edd3d9"/>
<rect x="603.9" y="227.69" width="23.3" height="2.49" fill="#c52628"/>
<rect x="603.9" y="229.88" width="23.3" height="2.49" fill="#c52628"/>
<rect x="603.9" y="232.08" width="23.3" height="2.49" fill="#c52628"/>
<rect x="603.9" y="234.27" width="23.3" height="2.49" fill="#cb4043"/>
<rect x="603.9" y="236.46" width="23.3" height="2.49" fill="#c52628"/>
<rect x="603.9" y="238.66" width="23.3" height="2.49" fill="#cb4144"/>
<rect x="603.9" y="240.85" width="23.3" height="2.49" fill="#e6b5bb"/>
<rect x="603.9" y="243.04" width="23.3" height="2.49" fill="#cf5255"/>
<rect x="603.9" y="245.23" width="23.3" height="2.49" fill="#cc4649"/>
<rect x="603.9" y="247.43" width="23.3" height="2.49" fill="#cd484b"/>
<rect x="603.9" y="249.62" width="23.3" height="2.49" fill="#c9373a"/>
<rect x="603.9" y="251.81" width="23.3" height="2.49" fill="#cb4043"/>
<rect x="603.9" y="254.01" width="23.3" height="2.49" fill="#c52628"/>
<rect x="626.9" y="98.30" width="23.3" height="2.49" fill="#d0cbe4"/>
<rect x="626.9" y="100.49" width="23.3" height="2.49" fill="#a29dcf"/>
<rect x="626.9" y="102.69" width="23.3" height="2.49" fill="#d3cee6"/>
<rect x="626.9" y="104.88" width="23.3" height="2.49" fill="#9692c9"/>
<rect x="626.9" y="107.07" width="23.3" height="2.49" fill="#cdc8e3"/>
<rect x="626.9" y="109.27" width="23.3" height="2.49" fill="#ded9eb"/>
<rect x="626.9" y="111.46" width="23.3" height="2.49" fill="#e9e4f0"/>
<rect x="626.9" y="113.65" width="23.3" height="2.49" fill="#beb9dc"/>
<rect x="626.9" y="115.84" width="23.3" height="2.49" fill="#b4b0d8"/>
<rect x="626.9" y="118.04" width="23.3" height="2.49" fill="#d9d4e9"/>
<rect x="626.9" y="120.23" width="23.3" height="2.49" fill="#c7c3e1"/>
<rect x="626.9" y="122.42" width="23.3" height="2.49" fill="#dfdbec"/>
<rect x="626.9" y="124.62" width="23.3" height="2.49" fill="#cac6e2"/>
<rect x="626.9" y="126.81" width="23.3" height="2.49" fill="#cdc8e3"/>
<rect x="626.9" y="129.00" width="23.3" height="2.49" fill="#ebe6f1"/>
<rect x="626.9" y="131.20" width="23.3" height="2.49" fill="#eedae1"/>
<rect x="626.9" y="133.39" width="23.3" height="2.49" fill="#efeaf3"/>
<rect x="626.9" y="135.58" width="23.3" height="2.49" fill="#ebe6f1"/>
<rect x="626.9" y="137.77" width="23.3" height="2.49" fill="#ede8f2"/>
<rect x="626.9" y="139.97" width="23.3" height="2.49" fill="#dcd8ea"/>
<rect x="626.9" y="142.16" width="23.3" height="2.49" fill="#f0ebf3"/>
<rect x="626.9" y="144.35" width="23.3" height="2.49" fill="#f1e4eb"/>
<rect x="626.9" y="146.55" width="23.3" height="2.49" fill="#e6e1ef"/>
<rect x="626.9" y="148.74" width="23.3" height="2.49" fill="#e4dfee"/>
<rect x="626.9" y="150.93" width="23.3" height="2.49" fill="#e3a7ac"/>
<rect x="626.9" y="153.13" width="23.3" height="2.49" fill="#d67175"/>
<rect x="626.9" y="155.32" width="23.3" height="2.49" fill="#dd8c91"/>
<rect x="626.9" y="157.51" width="23.3" height="2.49" fill="#d8777b"/>
<rect x="626.9" y="159.71" width="23.3" height="2.49" fill="#e09a9f"/>
<rect x="626.9" y="161.90" width="23.3" height="2.49" fill="#de9397"/>
<rect x="626.9" y="164.09" width="23.3" height="2.49" fill="#d67276"/>
<rect x="626.9" y="166.28" width="23.3" height="2.49" fill="#eac6cc"/>
<rect x="626.9" y="168.48" width="23.3" height="2.49" fill="#e3a9ae"/>
<rect x="626.9" y="170.67" width="23.3" height="2.49" fill="#dc898e"/>
<rect x="626.9" y="172.86" width="23.3" height="2.49" fill="#edd2d8"/>
<rect x="626.9" y="175.06" width="23.3" height="2.49" fill="#da8084"/>
<rect x="626.9" y="177.25" width="23.3" height="2.49" fill="#d46669"/>
<rect x="626.9" y="179.44" width="23.3" height="2.49" fill="#d25d61"/>
<rect x="626.9" y="181.64" width="23.3" height="2.49" fill="#cd484b"/>
<rect x="626.9" y="183.83" width="23.3" height="2.49" fill="#c72e30"/>
<rect x="626.9" y="186.02" width="23.3" height="2.49" fill="#c52628"/>
<rect x="626.9" y="188.22" width="23.3" height="2.49" fill="#c52628"/>
<rect x="626.9" y="190.41" width="23.3" height="2.49" fill="#c83234"/>
<rect x="626.9" y="192.60" width="23.3" height="2.49" fill="#ce4d50"/>
<rect x="626.9" y="194.79" width="23.3" height="2.49" fill="#cb4043"/>
<rect x="626.9" y="196.99" width="23.3" height="2.49" fill="#c52628"/>
<rect x="626.9" y="199.18" width="23.3" height="2.49" fill="#cd474a"/>
<rect x="626.9" y="201.37" width="23.3" height="2.49" fill="#c52628"/>
<rect x="626.9" y="203.57" width="23.3" height="2.49" fill="#cd484b"/>
<rect x="626.9" y="205.76" width="23.3" height="2.49" fill="#c72d30"/>
<rect x="626.9" y="207.95" width="23.3" height="2.49" fill="#c93639"/>
<rect x="626.9" y="210.15" width="23.3" height="2.49" fill="#e4abb1"/>
<rect x="626.9" y="212.34" width="23.3" height="2.49" fill="#ca3c3e"/>
<rect x="626.9" y="214.53" width="23.3" height="2.49" fill="#cfcae4"/>
<rect x="626.9" y="216.72" width="23.3" height="2.49" fill="#cbc6e2"/>
<rect x="626.9" y="218.92" width="23.3" height="2.49" fill="#cec9e4"/>
<rect x="626.9" y="221.11" width="23.3" height="2.49" fill="#f1e7ee"/>
<rect x="626.9" y="223.30" width="23.3" height="2.49" fill="#e8e3f0"/>
<rect x="626.9" y="225.50" width="23.3" height="2.49" fill="#dcd7ea"/>
<rect x="626.9" y="227.69" width="23.3" height="2.49" fill="#d8d3e8"/>
<rect x="626.9" y="229.88" width="23.3" height="2.49" fill="#ebcbd1"/>
<rect x="626.9" y="232.08" width="23.3" height="2.49" fill="#f2ebf2"/>
<rect x="626.9" y="234.27" width="23.3" height="2.49" fill="#f0dfe6"/>
<rect x="626.9" y="236.46" width="23.3" height="2.49" fill="#ebcad0"/>
<rect x="626.9" y="238.66" width="23.3" height="2.49" fill="#e4aeb3"/>
<rect x="626.9" y="240.85" width="23.3" height="2.49" fill="#e8bfc5"/>
<rect x="626.9" y="243.04" width="23.3" height="2.49" fill="#e2a4a9"/>
<rect x="626.9" y="245.23" width="23.3" height="2.49" fill="#dad5e9"/>
<rect x="626.9" y="247.43" width="23.3" height="2.49" fill="#bab5da"/>
<rect x="626.9" y="249.62" width="23.3" height="2.49" fill="#beb9dc"/>
<rect x="626.9" y="251.81" width="23.3" height="2.49" fill="#c8c3e1"/>
<rect x="626.9" y="254.01" width="23.3" height="2.49" fill="#bab5da"/>
<rect x="649.9" y="98.30" width="23.3" height="2.49" fill="#bfbadc"/>
<rect x="649.9" y="100.49" width="23.3" height="2.49" fill="#a39fd0"/>
<rect x="649.9" y="102.69" width="23.3" height="2.49" fill="#a7a2d1"/>
<rect x="649.9" y="104.88" width="23.3" height="2.49" fill="#d9d4e9"/>
<rect x="649.9" y="107.07" width="23.3" height="2.49" fill="#a29ecf"/>
<rect x="649.9" y="109.27" width="23.3" height="2.49" fill="#cfcae4"/>
<rect x="649.9" y="111.46" width="23.3" height="2.49" fill="#c6c1e0"/>
<rect x="649.9" y="113.65" width="23.3" height="2.49" fill="#d1cce5"/>
<rect x="649.9" y="115.84" width="23.3" height="2.49" fill="#a9a4d2"/>
<rect x="649.9" y="118.04" width="23.3" height="2.49" fill="#e4dfee"/>
<rect x="649.9" y="120.23" width="23.3" height="2.49" fill="#c2bede"/>
<rect x="649.9" y="122.42" width="23.3" height="2.49" fill="#827ec0"/>
<rect x="649.9" y="124.62" width="23.3" height="2.49" fill="#c9c4e1"/>
<rect x="649.9" y="126.81" width="23.3" height="2.49" fill="#7d79be"/>
<rect x="649.9" y="129.00" width="23.3" height="2.49" fill="#eae5f1"/>
<rect x="649.9" y="131.20" width="23.3" height="2.49" fill="#d9d4e9"/>
<rect x="649.9" y="133.39" width="23.3" height="2.49" fill="#b7b3d9"/>
<rect x="649.9" y="135.58" width="23.3" height="2.49" fill="#c7c2e0"/>
<rect x="649.9" y="137.77" width="23.3" height="2.49" fill="#9e9acd"/>
<rect x="649.9" y="139.97" width="23.3" height="2.49" fill="#afaad5"/>
<rect x="649.9" y="142.16" width="23.3" height="2.49" fill="#a6a1d1"/>
<rect x="649.9" y="144.35" width="23.3" height="2.49" fill="#e6e1ef"/>
<rect x="649.9" y="146.55" width="23.3" height="2.49" fill="#e2dded"/>
<rect x="649.9" y="148.74" width="23.3" height="2.49" fill="#d1cce5"/>
<rect x="649.9" y="150.93" width="23.3" height="2.49" fill="#c4bfdf"/>
<rect x="649.9" y="153.13" width="23.3" height="2.49" fill="#d6d1e7"/>
<rect x="649.9" y="155.32" width="23.3" height="2.49" fill="#ccc8e3"/>
<rect x="649.9" y="157.51" width="23.3" height="2.49" fill="#b7b2d9"/>
<rect x="649.9" y="159.71" width="23.3" height="2.49" fill="#d8d3e8"/>
<rect x="649.9" y="161.90" width="23.3" height="2.49" fill="#efeaf3"/>
<rect x="649.9" y="164.09" width="23.3" height="2.49" fill="#f3edf4"/>
<rect x="649.9" y="166.28" width="23.3" height="2.49" fill="#e0dbec"/>
<rect x="649.9" y="168.48" width="23.3" height="2.49" fill="#eac7ce"/>
<rect x="649.9" y="170.67" width="23.3" height="2.49" fill="#f0e0e7"/>
<rect x="649.9" y="172.86" width="23.3" height="2.49" fill="#eee9f2"/>
<rect x="649.9" y="175.06" width="23.3" height="2.49" fill="#eac5cb"/>
<rect x="649.9" y="177.25" width="23.3" height="2.49" fill="#f2e8ef"/>
<rect x="649.9" y="179.44" width="23.3" height="2.49" fill="#d8d4e8"/>
<rect x="649.9" y="181.64" width="23.3" height="2.49" fill="#f2e9f0"/>
<rect x="649.9" y="183.83" width="23.3" height="2.49" fill="#eee9f3"/>
<rect x="649.9" y="186.02" width="23.3" height="2.49" fill="#efeaf3"/>
<rect x="649.9" y="188.22" width="23.3" height="2.49" fill="#e2dded"/>
<rect x="649.9" y="190.41" width="23.3" height="2.49" fill="#d2cee6"/>
<rect x="649.9" y="192.60" width="23.3" height="2.49" fill="#f1ecf4"/>
<rect x="649.9" y="194.79" width="23.3" height="2.49" fill="#ccc7e3"/>
<rect x="649.9" y="196.99" width="23.3" height="2.49" fill="#e7e2ef"/>
<rect x="649.9" y="199.18" width="23.3" height="2.49" fill="#bab5da"/>
<rect x="649.9" y="201.37" width="23.3" height="2.49" fill="#c9c4e1"/>
<rect x="649.9" y="203.57" width="23.3" height="2.49" fill="#e8e3f0"/>
<rect x="649.9" y="205.76" width="23.3" height="2.49" fill="#e4dfee"/>
<rect x="649.9" y="207.95" width="23.3" height="2.49" fill="#bdb8dc"/>
<rect x="649.9" y="210.15" width="23.3" height="2.49" fill="#ded9eb"/>
<rect x="649.9" y="212.34" width="23.3" height="2.49" fill="#c4bfdf"/>
<rect x="649.9" y="214.53" width="23.3" height="2.49" fill="#d4686c"/>
<rect x="649.9" y="216.72" width="23.3" height="2.49" fill="#d36164"/>
<rect x="649.9" y="218.92" width="23.3" height="2.49" fill="#d46669"/>
<rect x="649.9" y="221.11" width="23.3" height="2.49" fill="#d15b5f"/>
<rect x="649.9" y="223.30" width="23.3" height="2.49" fill="#d56c6f"/>
<rect x="649.9" y="225.50" width="23.3" height="2.49" fill="#d36165"/>
<rect x="649.9" y="227.69" width="23.3" height="2.49" fill="#d97f83"/>
<rect x="649.9" y="229.88" width="23.3" height="2.49" fill="#9a96cb"/>
<rect x="649.9" y="232.08" width="23.3" height="2.49" fill="#b1acd6"/>
<rect x="649.9" y="234.27" width="23.3" height="2.49" fill="#a7a3d1"/>
<rect x="649.9" y="236.46" width="23.3" height="2.49" fill="#d3cee6"/>
<rect x="649.9" y="238.66" width="23.3" height="2.49" fill="#e3dfee"/>
<rect x="649.9" y="240.85" width="23.3" height="2.49" fill="#f2edf4"/>
<rect x="649.9" y="243.04" width="23.3" height="2.49" fill="#d1cce5"/>
<rect x="649.9" y="245.23" width="23.3" height="2.49" fill="#e5e0ef"/>
<rect x="649.9" y="247.43" width="23.3" height="2.49" fill="#bab5da"/>
<rect x="649.9" y="249.62" width="23.3" height="2.49" fill="#beb9dc"/>
<rect x="649.9" y="251.81" width="23.3" height="2.49" fill="#eee9f2"/>
<rect x="649.9" y="254.01" width="23.3" height="2.49" fill="#ebe6f1"/>
<rect x="672.8" y="98.30" width="23.3" height="2.49" fill="#f3eef5"/>
<rect x="672.8" y="100.49" width="23.3" height="2.49" fill="#cfcae4"/>
<rect x="672.8" y="102.69" width="23.3" height="2.49" fill="#f3ecf3"/>
<rect x="672.8" y="104.88" width="23.3" height="2.49" fill="#e2dded"/>
<rect x="672.8" y="107.07" width="23.3" height="2.49" fill="#cdc8e3"/>
<rect x="672.8" y="109.27" width="23.3" height="2.49" fill="#c9c4e1"/>
<rect x="672.8" y="111.46" width="23.3" height="2.49" fill="#cfcae4"/>
<rect x="672.8" y="113.65" width="23.3" height="2.49" fill="#e5e0ee"/>
<rect x="672.8" y="115.84" width="23.3" height="2.49" fill="#c2bede"/>
<rect x="672.8" y="118.04" width="23.3" height="2.49" fill="#e6e1ef"/>
<rect x="672.8" y="120.23" width="23.3" height="2.49" fill="#d2cde6"/>
<rect x="672.8" y="122.42" width="23.3" height="2.49" fill="#eee9f2"/>
<rect x="672.8" y="124.62" width="23.3" height="2.49" fill="#e3dfee"/>
<rect x="672.8" y="126.81" width="23.3" height="2.49" fill="#d6d2e8"/>
<rect x="672.8" y="129.00" width="23.3" height="2.49" fill="#eae6f1"/>
<rect x="672.8" y="131.20" width="23.3" height="2.49" fill="#c0bcdd"/>
<rect x="672.8" y="133.39" width="23.3" height="2.49" fill="#cdc9e3"/>
<rect x="672.8" y="135.58" width="23.3" height="2.49" fill="#e7e2ef"/>
<rect x="672.8" y="137.77" width="23.3" height="2.49" fill="#e7e2ef"/>
<rect x="672.8" y="139.97" width="23.3" height="2.49" fill="#eae5f1"/>
<rect x="672.8" y="142.16" width="23.3" height="2.49" fill="#edd6dc"/>
<rect x="672.8" y="144.35" width="23.3" height="2.49" fill="#eae5f1"/>
<rect x="672.8" y="146.55" width="23.3" height="2.49" fill="#efdee5"/>
<rect x="672.8" y="148.74" width="23.3" height="2.49" fill="#efeaf3"/>
<rect x="672.8" y="150.93" width="23.3" height="2.49" fill="#edd5db"/>
<rect x="672.8" y="153.13" width="23.3" height="2.49" fill="#edd6dc"/>
<rect x="672.8" y="155.32" width="23.3" height="2.49" fill="#edd3d9"/>
<rect x="672.8" y="157.51" width="23.3" height="2.49" fill="#f0ebf3"/>
<rect x="672.8" y="159.71" width="23.3" height="2.49" fill="#eac8ce"/>
<rect x="672.8" y="161.90" width="23.3" height="2.49" fill="#f2ebf2"/>
<rect x="672.8" y="164.09" width="23.3" height="2.49" fill="#e19ea3"/>
<rect x="672.8" y="166.28" width="23.3" height="2.49" fill="#e4acb1"/>
<rect x="672.8" y="168.48" width="23.3" height="2.49" fill="#df959a"/>
<rect x="672.8" y="170.67" width="23.3" height="2.49" fill="#eed7dd"/>
<rect x="672.8" y="172.86" width="23.3" height="2.49" fill="#e4adb3"/>
<rect x="672.8" y="175.06" width="23.3" height="2.49" fill="#efdde4"/>
<rect x="672.8" y="177.25" width="23.3" height="2.49" fill="#de9195"/>
<rect x="672.8" y="179.44" width="23.3" height="2.49" fill="#eed7de"/>
<rect x="672.8" y="181.64" width="23.3" height="2.49" fill="#edd2d9"/>
<rect x="672.8" y="183.83" width="23.3" height="2.49" fill="#edd4da"/>
<rect x="672.8" y="186.02" width="23.3" height="2.49" fill="#eed8df"/>
<rect x="672.8" y="188.22" width="23.3" height="2.49" fill="#efdbe1"/>
<rect x="672.8" y="190.41" width="23.3" height="2.49" fill="#ece8f2"/>
<rect x="672.8" y="192.60" width="23.3" height="2.49" fill="#e4acb1"/>
<rect x="672.8" y="194.79" width="23.3" height="2.49" fill="#ecd0d6"/>
<rect x="672.8" y="196.99" width="23.3" height="2.49" fill="#e8bec4"/>
<rect x="672.8" y="199.18" width="23.3" height="2.49" fill="#e7e2ef"/>
<rect x="672.8" y="201.37" width="23.3" height="2.49" fill="#edd3d9"/>
<rect x="672.8" y="203.57" width="23.3" height="2.49" fill="#e2dded"/>
<rect x="672.8" y="205.76" width="23.3" height="2.49" fill="#f1e4eb"/>
<rect x="672.8" y="207.95" width="23.3" height="2.49" fill="#f0e2e9"/>
<rect x="672.8" y="210.15" width="23.3" height="2.49" fill="#eedae1"/>
<rect x="672.8" y="212.34" width="23.3" height="2.49" fill="#eed9df"/>
<rect x="672.8" y="214.53" width="23.3" height="2.49" fill="#eccfd5"/>
<rect x="672.8" y="216.72" width="23.3" height="2.49" fill="#ecced4"/>
<rect x="672.8" y="218.92" width="23.3" height="2.49" fill="#ebcdd3"/>
<rect x="672.8" y="221.11" width="23.3" height="2.49" fill="#f2e8ef"/>
<rect x="672.8" y="223.30" width="23.3" height="2.49" fill="#ebcad0"/>
<rect x="672.8" y="225.50" width="23.3" height="2.49" fill="#e7bac0"/>
<rect x="672.8" y="227.69" width="23.3" height="2.49" fill="#ebccd2"/>
<rect x="672.8" y="229.88" width="23.3" height="2.49" fill="#e9e4f1"/>
<rect x="672.8" y="232.08" width="23.3" height="2.49" fill="#c4c0df"/>
<rect x="672.8" y="234.27" width="23.3" height="2.49" fill="#c3bede"/>
<rect x="672.8" y="236.46" width="23.3" height="2.49" fill="#eae5f1"/>
<rect x="672.8" y="238.66" width="23.3" height="2.49" fill="#ece8f2"/>
<rect x="672.8" y="240.85" width="23.3" height="2.49" fill="#e5e0ef"/>
<rect x="672.8" y="243.04" width="23.3" height="2.49" fill="#eae5f1"/>
<rect x="672.8" y="245.23" width="23.3" height="2.49" fill="#d8d4e8"/>
<rect x="672.8" y="247.43" width="23.3" height="2.49" fill="#f3eef5"/>
<rect x="672.8" y="249.62" width="23.3" height="2.49" fill="#ede8f2"/>
<rect x="672.8" y="251.81" width="23.3" height="2.49" fill="#e5e0ef"/>
<rect x="672.8" y="254.01" width="23.3" height="2.49" fill="#c8c3e1"/>
<rect x="695.8" y="98.30" width="23.3" height="2.49" fill="#aca8d4"/>
<rect x="695.8" y="100.49" width="23.3" height="2.49" fill="#c3bfdf"/>
<rect x="695.8" y="102.69" width="23.3" height="2.49" fill="#bcb8db"/>
<rect x="695.8" y="104.88" width="23.3" height="2.49" fill="#b2add6"/>
<rect x="695.8" y="107.07" width="23.3" height="2.49" fill="#d6d2e8"/>
<rect x="695.8" y="109.27" width="23.3" height="2.49" fill="#dedaeb"/>
<rect x="695.8" y="111.46" width="23.3" height="2.49" fill="#eee9f3"/>
<rect x="695.8" y="113.65" width="23.3" height="2.49" fill="#d2cde6"/>
<rect x="695.8" y="115.84" width="23.3" height="2.49" fill="#c3bede"/>
<rect x="695.8" y="118.04" width="23.3" height="2.49" fill="#d3cee6"/>
<rect x="695.8" y="120.23" width="23.3" height="2.49" fill="#bab5da"/>
<rect x="695.8" y="122.42" width="23.3" height="2.49" fill="#c0bcdd"/>
<rect x="695.8" y="124.62" width="23.3" height="2.49" fill="#dcd7ea"/>
<rect x="695.8" y="126.81" width="23.3" height="2.49" fill="#c1bcdd"/>
<rect x="695.8" y="129.00" width="23.3" height="2.49" fill="#beb9dc"/>
<rect x="695.8" y="131.20" width="23.3" height="2.49" fill="#efeaf3"/>
<rect x="695.8" y="133.39" width="23.3" height="2.49" fill="#f0e1e7"/>
<rect x="695.8" y="135.58" width="23.3" height="2.49" fill="#ece7f2"/>
<rect x="695.8" y="137.77" width="23.3" height="2.49" fill="#d1cce5"/>
<rect x="695.8" y="139.97" width="23.3" height="2.49" fill="#efeaf3"/>
<rect x="695.8" y="142.16" width="23.3" height="2.49" fill="#f1e6ed"/>
<rect x="695.8" y="144.35" width="23.3" height="2.49" fill="#eed9e0"/>
<rect x="695.8" y="146.55" width="23.3" height="2.49" fill="#aeaad5"/>
<rect x="695.8" y="148.74" width="23.3" height="2.49" fill="#eed8df"/>
<rect x="695.8" y="150.93" width="23.3" height="2.49" fill="#f0e1e7"/>
<rect x="695.8" y="153.13" width="23.3" height="2.49" fill="#e9c2c8"/>
<rect x="695.8" y="155.32" width="23.3" height="2.49" fill="#ebccd3"/>
<rect x="695.8" y="157.51" width="23.3" height="2.49" fill="#ecd0d6"/>
<rect x="695.8" y="159.71" width="23.3" height="2.49" fill="#f2e9f0"/>
<rect x="695.8" y="161.90" width="23.3" height="2.49" fill="#f1ecf4"/>
<rect x="695.8" y="164.09" width="23.3" height="2.49" fill="#e0999e"/>
<rect x="695.8" y="166.28" width="23.3" height="2.49" fill="#e1a0a5"/>
<rect x="695.8" y="168.48" width="23.3" height="2.49" fill="#e6b6bc"/>
<rect x="695.8" y="170.67" width="23.3" height="2.49" fill="#e1dced"/>
<rect x="695.8" y="172.86" width="23.3" height="2.49" fill="#9c97cc"/>
<rect x="695.8" y="175.06" width="23.3" height="2.49" fill="#eed7de"/>
<rect x="695.8" y="177.25" width="23.3" height="2.49" fill="#ecd0d6"/>
<rect x="695.8" y="179.44" width="23.3" height="2.49" fill="#cdc8e3"/>
<rect x="695.8" y="181.64" width="23.3" height="2.49" fill="#cfcae4"/>
<rect x="695.8" y="183.83" width="23.3" height="2.49" fill="#b5b1d8"/>
<rect x="695.8" y="186.02" width="23.3" height="2.49" fill="#bbb6db"/>
<rect x="695.8" y="188.22" width="23.3" height="2.49" fill="#b3afd7"/>
<rect x="695.8" y="190.41" width="23.3" height="2.49" fill="#ddd8eb"/>
<rect x="695.8" y="192.60" width="23.3" height="2.49" fill="#efdbe1"/>
<rect x="695.8" y="194.79" width="23.3" height="2.49" fill="#ebe6f1"/>
<rect x="695.8" y="196.99" width="23.3" height="2.49" fill="#ecd1d7"/>
<rect x="695.8" y="199.18" width="23.3" height="2.49" fill="#ebccd2"/>
<rect x="695.8" y="201.37" width="23.3" height="2.49" fill="#e7bbc1"/>
<rect x="695.8" y="203.57" width="23.3" height="2.49" fill="#f1e5ec"/>
<rect x="695.8" y="205.76" width="23.3" height="2.49" fill="#ede8f2"/>
<rect x="695.8" y="207.95" width="23.3" height="2.49" fill="#efdbe1"/>
<rect x="695.8" y="210.15" width="23.3" height="2.49" fill="#eee9f3"/>
<rect x="695.8" y="212.34" width="23.3" height="2.49" fill="#ebe6f1"/>
<rect x="695.8" y="214.53" width="23.3" height="2.49" fill="#db878b"/>
<rect x="695.8" y="216.72" width="23.3" height="2.49" fill="#e5b2b8"/>
<rect x="695.8" y="218.92" width="23.3" height="2.49" fill="#e1a0a5"/>
<rect x="695.8" y="221.11" width="23.3" height="2.49" fill="#dd8e93"/>
<rect x="695.8" y="223.30" width="23.3" height="2.49" fill="#e4acb1"/>
<rect x="695.8" y="225.50" width="23.3" height="2.49" fill="#e7bbc1"/>
<rect x="695.8" y="227.69" width="23.3" height="2.49" fill="#dd9094"/>
<rect x="695.8" y="229.88" width="23.3" height="2.49" fill="#9c97cc"/>
<rect x="695.8" y="232.08" width="23.3" height="2.49" fill="#c3bede"/>
<rect x="695.8" y="234.27" width="23.3" height="2.49" fill="#c3bede"/>
<rect x="695.8" y="236.46" width="23.3" height="2.49" fill="#d9d5e9"/>
<rect x="695.8" y="238.66" width="23.3" height="2.49" fill="#dad5e9"/>
<rect x="695.8" y="240.85" width="23.3" height="2.49" fill="#8985c3"/>
<rect x="695.8" y="243.04" width="23.3" height="2.49" fill="#9d98cc"/>
<rect x="695.8" y="245.23" width="23.3" height="2.49" fill="#9e99cd"/>
<rect x="695.8" y="247.43" width="23.3" height="2.49" fill="#9590c9"/>
<rect x="695.8" y="249.62" width="23.3" height="2.49" fill="#a29dcf"/>
<rect x="695.8" y="251.81" width="23.3" height="2.49" fill="#e4dfee"/>
<rect x="695.8" y="254.01" width="23.3" height="2.49" fill="#ecd0d6"/>
<rect x="718.8" y="98.30" width="23.3" height="2.49" fill="#f3ecf3"/>
<rect x="718.8" y="100.49" width="23.3" height="2.49" fill="#d3cee6"/>
<rect x="718.8" y="102.69" width="23.3" height="2.49" fill="#efeaf3"/>
<rect x="718.8" y="104.88" width="23.3" height="2.49" fill="#efeaf3"/>
<rect x="718.8" y="107.07" width="23.3" height="2.49" fill="#f2e8ee"/>
<rect x="718.8" y="109.27" width="23.3" height="2.49" fill="#d2cde6"/>
<rect x="718.8" y="111.46" width="23.3" height="2.49" fill="#e8e3f0"/>
<rect x="718.8" y="113.65" width="23.3" height="2.49" fill="#eae5f1"/>
<rect x="718.8" y="115.84" width="23.3" height="2.49" fill="#dfdaeb"/>
<rect x="718.8" y="118.04" width="23.3" height="2.49" fill="#ece7f2"/>
<rect x="718.8" y="120.23" width="23.3" height="2.49" fill="#ddd8eb"/>
<rect x="718.8" y="122.42" width="23.3" height="2.49" fill="#ccc7e3"/>
<rect x="718.8" y="124.62" width="23.3" height="2.49" fill="#b9b5da"/>
<rect x="718.8" y="126.81" width="23.3" height="2.49" fill="#b2aed7"/>
<rect x="718.8" y="129.00" width="23.3" height="2.49" fill="#f3eef5"/>
<rect x="718.8" y="131.20" width="23.3" height="2.49" fill="#f1ecf4"/>
<rect x="718.8" y="133.39" width="23.3" height="2.49" fill="#f2e9f0"/>
<rect x="718.8" y="135.58" width="23.3" height="2.49" fill="#f1ecf4"/>
<rect x="718.8" y="137.77" width="23.3" height="2.49" fill="#ebc9cf"/>
<rect x="718.8" y="139.97" width="23.3" height="2.49" fill="#eac9cf"/>
<rect x="718.8" y="142.16" width="23.3" height="2.49" fill="#eee9f3"/>
<rect x="718.8" y="144.35" width="23.3" height="2.49" fill="#e19ea3"/>
<rect x="718.8" y="146.55" width="23.3" height="2.49" fill="#db8488"/>
<rect x="718.8" y="148.74" width="23.3" height="2.49" fill="#e4dfee"/>
<rect x="718.8" y="150.93" width="23.3" height="2.49" fill="#eac8ce"/>
<rect x="718.8" y="153.13" width="23.3" height="2.49" fill="#e2a4a9"/>
<rect x="718.8" y="155.32" width="23.3" height="2.49" fill="#edd5db"/>
<rect x="718.8" y="157.51" width="23.3" height="2.49" fill="#ebcbd2"/>
<rect x="718.8" y="159.71" width="23.3" height="2.49" fill="#eed8df"/>
<rect x="718.8" y="161.90" width="23.3" height="2.49" fill="#d4686b"/>
<rect x="718.8" y="164.09" width="23.3" height="2.49" fill="#ebccd2"/>
<rect x="718.8" y="166.28" width="23.3" height="2.49" fill="#d26064"/>
<rect x="718.8" y="168.48" width="23.3" height="2.49" fill="#f0e0e7"/>
<rect x="718.8" y="170.67" width="23.3" height="2.49" fill="#e1a0a5"/>
<rect x="718.8" y="172.86" width="23.3" height="2.49" fill="#dd9095"/>
<rect x="718.8" y="175.06" width="23.3" height="2.49" fill="#dc8b8f"/>
<rect x="718.8" y="177.25" width="23.3" height="2.49" fill="#d4676b"/>
<rect x="718.8" y="179.44" width="23.3" height="2.49" fill="#d66e72"/>
<rect x="718.8" y="181.64" width="23.3" height="2.49" fill="#e19fa4"/>
<rect x="718.8" y="183.83" width="23.3" height="2.49" fill="#db878b"/>
<rect x="718.8" y="186.02" width="23.3" height="2.49" fill="#edd3d9"/>
<rect x="718.8" y="188.22" width="23.3" height="2.49" fill="#eac7ce"/>
<rect x="718.8" y="190.41" width="23.3" height="2.49" fill="#efdbe1"/>
<rect x="718.8" y="192.60" width="23.3" height="2.49" fill="#dd8e92"/>
<rect x="718.8" y="194.79" width="23.3" height="2.49" fill="#e8bec4"/>
<rect x="718.8" y="196.99" width="23.3" height="2.49" fill="#de9196"/>
<rect x="718.8" y="199.18" width="23.3" height="2.49" fill="#edd3d9"/>
<rect x="718.8" y="201.37" width="23.3" height="2.49" fill="#e6b5bb"/>
<rect x="718.8" y="203.57" width="23.3" height="2.49" fill="#eac8ce"/>
<rect x="718.8" y="205.76" width="23.3" height="2.49" fill="#e8bec3"/>
<rect x="718.8" y="207.95" width="23.3" height="2.49" fill="#e9c3c9"/>
<rect x="718.8" y="210.15" width="23.3" height="2.49" fill="#e9c1c7"/>
<rect x="718.8" y="212.34" width="23.3" height="2.49" fill="#e3a9ae"/>
<rect x="718.8" y="214.53" width="23.3" height="2.49" fill="#e4aeb3"/>
<rect x="718.8" y="216.72" width="23.3" height="2.49" fill="#e5b0b5"/>
<rect x="718.8" y="218.92" width="23.3" height="2.49" fill="#e3deee"/>
<rect x="718.8" y="221.11" width="23.3" height="2.49" fill="#dfdaec"/>
<rect x="718.8" y="223.30" width="23.3" height="2.49" fill="#d3cee6"/>
<rect x="718.8" y="225.50" width="23.3" height="2.49" fill="#f2edf4"/>
<rect x="718.8" y="227.69" width="23.3" height="2.49" fill="#f2edf4"/>
<rect x="718.8" y="229.88" width="23.3" height="2.49" fill="#e1dced"/>
<rect x="718.8" y="232.08" width="23.3" height="2.49" fill="#edd4da"/>
<rect x="718.8" y="234.27" width="23.3" height="2.49" fill="#ebe6f1"/>
<rect x="718.8" y="236.46" width="23.3" height="2.49" fill="#e3deed"/>
<rect x="718.8" y="238.66" width="23.3" height="2.49" fill="#f2ebf2"/>
<rect x="718.8" y="240.85" width="23.3" height="2.49" fill="#efdde3"/>
<rect x="718.8" y="243.04" width="23.3" height="2.49" fill="#e9e4f0"/>
<rect x="718.8" y="245.23" width="23.3" height="2.49" fill="#f1e6ed"/>
<rect x="718.8" y="247.43" width="23.3" height="2.49" fill="#eac7cd"/>
<rect x="718.8" y="249.62" width="23.3" height="2.49" fill="#f1e5ec"/>
<rect x="718.8" y="251.81" width="23.3" height="2.49" fill="#e8c0c6"/>
<rect x="718.8" y="254.01" width="23.3" height="2.49" fill="#f2e9ef"/>
<rect x="741.8" y="98.30" width="23.3" height="2.49" fill="#e8bec4"/>
<rect x="741.8" y="100.49" width="23.3" height="2.49" fill="#f2e9f0"/>
<rect x="741.8" y="102.69" width="23.3" height="2.49" fill="#eac9cf"/>
<rect x="741.8" y="104.88" width="23.3" height="2.49" fill="#e2dded"/>
<rect x="741.8" y="107.07" width="23.3" height="2.49" fill="#e8e3f0"/>
<rect x="741.8" y="109.27" width="23.3" height="2.49" fill="#f1e7ed"/>
<rect x="741.8" y="111.46" width="23.3" height="2.49" fill="#ece7f2"/>
<rect x="741.8" y="113.65" width="23.3" height="2.49" fill="#ebcbd1"/>
<rect x="741.8" y="115.84" width="23.3" height="2.49" fill="#dfdbec"/>
<rect x="741.8" y="118.04" width="23.3" height="2.49" fill="#dfdbec"/>
<rect x="741.8" y="120.23" width="23.3" height="2.49" fill="#ebcad1"/>
<rect x="741.8" y="122.42" width="23.3" height="2.49" fill="#eed9e0"/>
<rect x="741.8" y="124.62" width="23.3" height="2.49" fill="#e5e0ee"/>
<rect x="741.8" y="126.81" width="23.3" height="2.49" fill="#e0dbec"/>
<rect x="741.8" y="129.00" width="23.3" height="2.49" fill="#f2edf5"/>
<rect x="741.8" y="131.20" width="23.3" height="2.49" fill="#f1ecf4"/>
<rect x="741.8" y="133.39" width="23.3" height="2.49" fill="#efdce2"/>
<rect x="741.8" y="135.58" width="23.3" height="2.49" fill="#e8e3f0"/>
<rect x="741.8" y="137.77" width="23.3" height="2.49" fill="#cdc8e3"/>
<rect x="741.8" y="139.97" width="23.3" height="2.49" fill="#dbd6ea"/>
<rect x="741.8" y="142.16" width="23.3" height="2.49" fill="#f1e6ec"/>
<rect x="741.8" y="144.35" width="23.3" height="2.49" fill="#e5e0ee"/>
<rect x="741.8" y="146.55" width="23.3" height="2.49" fill="#dcd7ea"/>
<rect x="741.8" y="148.74" width="23.3" height="2.49" fill="#eee9f2"/>
<rect x="741.8" y="150.93" width="23.3" height="2.49" fill="#f1ecf4"/>
<rect x="741.8" y="153.13" width="23.3" height="2.49" fill="#f2eaf0"/>
<rect x="741.8" y="155.32" width="23.3" height="2.49" fill="#e9e4f0"/>
<rect x="741.8" y="157.51" width="23.3" height="2.49" fill="#d6d1e7"/>
<rect x="741.8" y="159.71" width="23.3" height="2.49" fill="#f1ecf4"/>
<rect x="741.8" y="161.90" width="23.3" height="2.49" fill="#e9c4ca"/>
<rect x="741.8" y="164.09" width="23.3" height="2.49" fill="#ebcdd3"/>
<rect x="741.8" y="166.28" width="23.3" height="2.49" fill="#eedae0"/>
<rect x="741.8" y="168.48" width="23.3" height="2.49" fill="#eccdd4"/>
<rect x="741.8" y="170.67" width="23.3" height="2.49" fill="#ebcad0"/>
<rect x="741.8" y="172.86" width="23.3" height="2.49" fill="#f2eaf0"/>
<rect x="741.8" y="175.06" width="23.3" height="2.49" fill="#e9c4ca"/>
<rect x="741.8" y="177.25" width="23.3" height="2.49" fill="#edd5dc"/>
<rect x="741.8" y="179.44" width="23.3" height="2.49" fill="#f1e7ee"/>
<rect x="741.8" y="181.64" width="23.3" height="2.49" fill="#f0dfe6"/>
<rect x="741.8" y="183.83" width="23.3" height="2.49" fill="#e5b0b6"/>
<rect x="741.8" y="186.02" width="23.3" height="2.49" fill="#f0e3ea"/>
<rect x="741.8" y="188.22" width="23.3" height="2.49" fill="#eac7cd"/>
<rect x="741.8" y="190.41" width="23.3" height="2.49" fill="#eac9cf"/>
<rect x="741.8" y="192.60" width="23.3" height="2.49" fill="#edd3da"/>
<rect x="741.8" y="194.79" width="23.3" height="2.49" fill="#f2edf4"/>
<rect x="741.8" y="196.99" width="23.3" height="2.49" fill="#e5e1ef"/>
<rect x="741.8" y="199.18" width="23.3" height="2.49" fill="#f1ecf4"/>
<rect x="741.8" y="201.37" width="23.3" height="2.49" fill="#e1dcec"/>
<rect x="741.8" y="203.57" width="23.3" height="2.49" fill="#f1ecf4"/>
<rect x="741.8" y="205.76" width="23.3" height="2.49" fill="#e9e4f0"/>
<rect x="741.8" y="207.95" width="23.3" height="2.49" fill="#dbd6ea"/>
<rect x="741.8" y="210.15" width="23.3" height="2.49" fill="#f3eef5"/>
<rect x="741.8" y="212.34" width="23.3" height="2.49" fill="#eee9f3"/>
<rect x="741.8" y="214.53" width="23.3" height="2.49" fill="#ede8f2"/>
<rect x="741.8" y="216.72" width="23.3" height="2.49" fill="#eac6cc"/>
<rect x="741.8" y="218.92" width="23.3" height="2.49" fill="#ede8f2"/>
<rect x="741.8" y="221.11" width="23.3" height="2.49" fill="#f2e8ef"/>
<rect x="741.8" y="223.30" width="23.3" height="2.49" fill="#e7e2ef"/>
<rect x="741.8" y="225.50" width="23.3" height="2.49" fill="#ecced4"/>
<rect x="741.8" y="227.69" width="23.3" height="2.49" fill="#f0e3e9"/>
<rect x="741.8" y="229.88" width="23.3" height="2.49" fill="#efdbe1"/>
<rect x="741.8" y="232.08" width="23.3" height="2.49" fill="#edd3d9"/>
<rect x="741.8" y="234.27" width="23.3" height="2.49" fill="#e6b7bd"/>
<rect x="741.8" y="236.46" width="23.3" height="2.49" fill="#ebccd2"/>
<rect x="741.8" y="238.66" width="23.3" height="2.49" fill="#e3a7ad"/>
<rect x="741.8" y="240.85" width="23.3" height="2.49" fill="#df979c"/>
<rect x="741.8" y="243.04" width="23.3" height="2.49" fill="#df969b"/>
<rect x="741.8" y="245.23" width="23.3" height="2.49" fill="#e5b2b7"/>
<rect x="741.8" y="247.43" width="23.3" height="2.49" fill="#e4afb4"/>
<rect x="741.8" y="249.62" width="23.3" height="2.49" fill="#eac8cf"/>
<rect x="741.8" y="251.81" width="23.3" height="2.49" fill="#e6b7bd"/>
<rect x="741.8" y="254.01" width="23.3" height="2.49" fill="#e6b6bc"/>
<rect x="764.7" y="98.30" width="23.3" height="2.49" fill="#d8d3e8"/>
<rect x="764.7" y="100.49" width="23.3" height="2.49" fill="#e5e0ef"/>
<rect x="764.7" y="102.69" width="23.3" height="2.49" fill="#f2e9f0"/>
<rect x="764.7" y="104.88" width="23.3" height="2.49" fill="#c5c0df"/>
<rect x="764.7" y="107.07" width="23.3" height="2.49" fill="#f2ebf2"/>
<rect x="764.7" y="109.27" width="23.3" height="2.49" fill="#c9c4e1"/>
<rect x="764.7" y="111.46" width="23.3" height="2.49" fill="#eee9f3"/>
<rect x="764.7" y="113.65" width="23.3" height="2.49" fill="#c2bede"/>
<rect x="764.7" y="115.84" width="23.3" height="2.49" fill="#c7c3e1"/>
<rect x="764.7" y="118.04" width="23.3" height="2.49" fill="#aaa6d3"/>
<rect x="764.7" y="120.23" width="23.3" height="2.49" fill="#b1acd6"/>
<rect x="764.7" y="122.42" width="23.3" height="2.49" fill="#b7b2d9"/>
<rect x="764.7" y="124.62" width="23.3" height="2.49" fill="#d5d0e7"/>
<rect x="764.7" y="126.81" width="23.3" height="2.49" fill="#aea9d4"/>
<rect x="764.7" y="129.00" width="23.3" height="2.49" fill="#c5c0df"/>
<rect x="764.7" y="131.20" width="23.3" height="2.49" fill="#c8c3e1"/>
<rect x="764.7" y="133.39" width="23.3" height="2.49" fill="#cfcae4"/>
<rect x="764.7" y="135.58" width="23.3" height="2.49" fill="#a6a1d1"/>
<rect x="764.7" y="137.77" width="23.3" height="2.49" fill="#b7b3d9"/>
<rect x="764.7" y="139.97" width="23.3" height="2.49" fill="#b2aed7"/>
<rect x="764.7" y="142.16" width="23.3" height="2.49" fill="#b9b4da"/>
<rect x="764.7" y="144.35" width="23.3" height="2.49" fill="#a8a3d2"/>
<rect x="764.7" y="146.55" width="23.3" height="2.49" fill="#ded9eb"/>
<rect x="764.7" y="148.74" width="23.3" height="2.49" fill="#b4afd7"/>
<rect x="764.7" y="150.93" width="23.3" height="2.49" fill="#b5b1d8"/>
<rect x="764.7" y="153.13" width="23.3" height="2.49" fill="#b8b3d9"/>
<rect x="764.7" y="155.32" width="23.3" height="2.49" fill="#9c97cc"/>
<rect x="764.7" y="157.51" width="23.3" height="2.49" fill="#b4afd7"/>
<rect x="764.7" y="159.71" width="23.3" height="2.49" fill="#ada8d4"/>
<rect x="764.7" y="161.90" width="23.3" height="2.49" fill="#9d98cd"/>
<rect x="764.7" y="164.09" width="23.3" height="2.49" fill="#f0e2e9"/>
<rect x="764.7" y="166.28" width="23.3" height="2.49" fill="#f0dfe6"/>
<rect x="764.7" y="168.48" width="23.3" height="2.49" fill="#dbd7ea"/>
<rect x="764.7" y="170.67" width="23.3" height="2.49" fill="#efdce3"/>
<rect x="764.7" y="172.86" width="23.3" height="2.49" fill="#ede8f2"/>
<rect x="764.7" y="175.06" width="23.3" height="2.49" fill="#f1e7ee"/>
<rect x="764.7" y="177.25" width="23.3" height="2.49" fill="#f1e4ea"/>
<rect x="764.7" y="179.44" width="23.3" height="2.49" fill="#eedae1"/>
<rect x="764.7" y="181.64" width="23.3" height="2.49" fill="#ede8f2"/>
<rect x="764.7" y="183.83" width="23.3" height="2.49" fill="#efeaf3"/>
<rect x="764.7" y="186.02" width="23.3" height="2.49" fill="#f1e6ed"/>
<rect x="764.7" y="188.22" width="23.3" height="2.49" fill="#e6e1ef"/>
<rect x="764.7" y="190.41" width="23.3" height="2.49" fill="#f3eef5"/>
<rect x="764.7" y="192.60" width="23.3" height="2.49" fill="#edd4da"/>
<rect x="764.7" y="194.79" width="23.3" height="2.49" fill="#edd3da"/>
<rect x="764.7" y="196.99" width="23.3" height="2.49" fill="#f2e8ef"/>
<rect x="764.7" y="199.18" width="23.3" height="2.49" fill="#f2e8ee"/>
<rect x="764.7" y="201.37" width="23.3" height="2.49" fill="#efdee5"/>
<rect x="764.7" y="203.57" width="23.3" height="2.49" fill="#ede8f2"/>
<rect x="764.7" y="205.76" width="23.3" height="2.49" fill="#ebe6f1"/>
<rect x="764.7" y="207.95" width="23.3" height="2.49" fill="#f0dfe6"/>
<rect x="764.7" y="210.15" width="23.3" height="2.49" fill="#dcd7ea"/>
<rect x="764.7" y="212.34" width="23.3" height="2.49" fill="#ecd0d6"/>
<rect x="764.7" y="214.53" width="23.3" height="2.49" fill="#e3a8ad"/>
<rect x="764.7" y="216.72" width="23.3" height="2.49" fill="#e3aab0"/>
<rect x="764.7" y="218.92" width="23.3" height="2.49" fill="#d77478"/>
<rect x="764.7" y="221.11" width="23.3" height="2.49" fill="#da8388"/>
<rect x="764.7" y="223.30" width="23.3" height="2.49" fill="#d77478"/>
<rect x="764.7" y="225.50" width="23.3" height="2.49" fill="#db868a"/>
<rect x="764.7" y="227.69" width="23.3" height="2.49" fill="#da8185"/>
<rect x="764.7" y="229.88" width="23.3" height="2.49" fill="#e8bfc5"/>
<rect x="764.7" y="232.08" width="23.3" height="2.49" fill="#e8c0c6"/>
<rect x="764.7" y="234.27" width="23.3" height="2.49" fill="#efdde3"/>
<rect x="764.7" y="236.46" width="23.3" height="2.49" fill="#f2edf5"/>
<rect x="764.7" y="238.66" width="23.3" height="2.49" fill="#eac9cf"/>
<rect x="764.7" y="240.85" width="23.3" height="2.49" fill="#ecd0d6"/>
<rect x="764.7" y="243.04" width="23.3" height="2.49" fill="#eac6cc"/>
<rect x="764.7" y="245.23" width="23.3" height="2.49" fill="#e3a7ac"/>
<rect x="764.7" y="247.43" width="23.3" height="2.49" fill="#e6b6bc"/>
<rect x="764.7" y="249.62" width="23.3" height="2.49" fill="#e6b5bb"/>
<rect x="764.7" y="251.81" width="23.3" height="2.49" fill="#e2a2a7"/>
<rect x="764.7" y="254.01" width="23.3" height="2.49" fill="#eac5cb"/>
</g>
<text class="t19" transform="translate(507.3,178.0) rotate(-90)" text-anchor="middle">Transcripts/</text>
<text class="t19" transform="translate(526.9,177.6) rotate(-90)" text-anchor="middle">splice isoforms</text>
<text class="t19" x="661.3" y="278.5" text-anchor="middle">Domain markers</text>

<!-- ============ BOTTOM LEFT ============ -->
<text class="t28" x="105.2" y="343.3" textLength="244.7" lengthAdjust="spacingAndGlyphs">Distinct “hubs” of</text>
<text class="t28" x="119.5" y="376.8" textLength="215.4" lengthAdjust="spacingAndGlyphs">retained introns</text>

<ellipse cx="60" cy="412.9" rx="56" ry="38.2" transform="rotate(45 60 412.9)" fill="url(#gNuc2)" stroke="#3a56ae" stroke-width="4.2"/>
<path d="M26.9,377.7C26.9,376.5 28.2,375.1 30.1,374.4C32.0,373.8 36.1,373.4 38.3,373.6C40.5,373.9 42.0,374.8 43.2,376.1C44.4,377.3 44.5,379.6 45.6,381.0C46.7,382.3 48.4,383.3 49.7,384.2C51.0,385.2 53.0,385.7 53.4,386.7C53.8,387.6 53.0,389.2 52.1,389.9C51.2,390.6 49.1,390.0 48.1,390.7C47.0,391.5 46.4,394.0 45.6,394.3C44.8,394.6 44.1,394.0 43.2,392.7C42.2,391.4 41.3,388.2 39.9,386.7C38.6,385.1 36.7,384.2 35.0,383.4C33.4,382.6 31.5,382.7 30.1,381.8C28.8,380.8 26.9,378.9 26.9,377.7Z" fill="url(#gSpk2)"/>
<path d="M71.2,396.4C71.3,395.1 72.1,393.6 73.0,393.2C73.9,392.7 75.2,392.8 76.6,393.7C78.0,394.5 79.6,396.8 81.5,398.1C83.4,399.3 86.6,400.0 88.0,401.3C89.4,402.7 89.8,404.3 89.9,406.2C90.1,408.1 89.5,410.4 88.8,412.7C88.1,415.0 86.8,418.4 85.5,420.1C84.3,421.7 82.6,422.8 81.5,422.8C80.3,422.8 79.1,421.7 78.5,420.1C77.9,418.4 78.3,415.0 77.9,412.7C77.5,410.4 77.1,408.1 76.2,406.2C75.4,404.3 73.3,402.9 72.5,401.3C71.7,399.7 71.1,397.8 71.2,396.4Z" fill="url(#gSpk2)"/>
<path d="M22.8,412.7C22.4,411.0 23.5,407.8 24.4,406.2C25.4,404.7 27.3,403.4 28.5,403.4C29.7,403.4 30.7,405.2 31.8,406.2C32.9,407.2 33.5,408.7 35.0,409.5C36.5,410.2 39.4,410.1 40.7,410.6C42.1,411.1 42.9,411.4 43.2,412.7C43.4,414.0 42.8,416.8 42.4,418.4C42.0,420.1 41.6,422.0 40.7,422.5C39.9,423.0 38.5,422.4 37.1,421.7C35.8,421.0 34.3,419.2 32.6,418.4C30.9,417.6 28.5,417.7 26.9,416.8C25.3,415.8 23.2,414.5 22.8,412.7Z" fill="url(#gSpk2)"/>
<path d="M58.7,442.0C58.5,440.4 60.0,439.3 61.1,438.8C62.2,438.3 63.7,438.7 65.2,439.3C66.7,439.8 68.2,441.6 70.1,442.0C72.0,442.5 75.0,441.8 76.6,442.0C78.1,442.3 79.1,442.7 79.3,443.7C79.6,444.6 78.2,446.4 78.2,447.8C78.2,449.1 79.5,450.8 79.3,451.8C79.2,452.8 78.5,453.8 77.4,453.8C76.2,453.8 74.3,452.3 72.5,451.8C70.7,451.4 68.6,451.6 66.8,451.0C65.0,450.5 63.3,450.1 61.9,448.6C60.6,447.1 58.8,443.7 58.7,442.0Z" fill="url(#gSpk2)"/>

<text class="t19" x="224.3" y="432.5" text-anchor="middle">Speckle</text>
<text class="t19" x="375.3" y="431.8" text-anchor="middle">Lamina</text>
<!-- speckle exon/intron -->
<line x1="214" y1="451.4" x2="235" y2="451.4" stroke="#c41a1a" stroke-width="3.2"/>
<rect x="183.3" y="445.1" width="31.5" height="12.6" rx="6.3" fill="#cdcdcd" stroke="#0c0c0c" stroke-width="2.6"/>
<rect x="234.2" y="445.1" width="31.5" height="12.6" rx="6.3" fill="#cdcdcd" stroke="#0c0c0c" stroke-width="2.6"/>
<line x1="336" y1="449.6" x2="417" y2="449.6" stroke="#3655b2" stroke-width="4.2"/>
<rect x="305.0" y="443.3" width="31.5" height="12.6" rx="6.3" fill="#cdcdcd" stroke="#0c0c0c" stroke-width="2.6"/>
<rect x="415.9" y="443.3" width="31.5" height="12.6" rx="6.3" fill="#cdcdcd" stroke="#0c0c0c" stroke-width="2.6"/>

<line x1="298.35" y1="460.5" x2="298.35" y2="746" stroke="#8c8c8c" stroke-width="1.8" stroke-dasharray="10 10" stroke-dashoffset="5"/>

<text class="l19" x="160.5" y="482.1" text-anchor="end">%GC:</text>
<text class="l19" x="160.5" y="513.3" text-anchor="end">Length:</text>
<text class="l19" x="155.6" y="543.2" text-anchor="end">Detained</text>
<text class="l19" x="160.5" y="560" text-anchor="end">intron overlap:</text>
<text class="l19" x="160.5" y="595.4" text-anchor="end">Gene Ontology:</text>

<text class="t14" x="224.2" y="478" text-anchor="middle">High</text>
<text class="t14" x="224.2" y="512.4" text-anchor="middle">Short</text>
<text class="t14" x="224.2" y="551.3" text-anchor="middle">High</text>
<text class="t14" x="224.2" y="580" text-anchor="middle">RNA processing</text>
<text class="t14" x="224.2" y="597" text-anchor="middle">Translation</text>
<text class="t14" x="224.2" y="614.5" text-anchor="middle">Cell cycle</text>

<text class="t14" x="375.2" y="478" text-anchor="middle">Average</text>
<text class="t14" x="375.2" y="512.4" text-anchor="middle">Long</text>
<text class="t14" x="375.2" y="551.3" text-anchor="middle">Low</text>
<text class="t14" x="375.2" y="580" text-anchor="middle">ncRNA processing</text>
<text class="t14" x="375.2" y="597" text-anchor="middle">Microtubule process</text>
<text class="t14" x="375.2" y="614.5" text-anchor="middle">GTPase activity</text>

<text class="t16" x="157.2" y="668.1" text-anchor="end"><tspan fill="#a81414">RNA</tspan>/<tspan fill="#ffffff">DNA</tspan>-FISH</text>
<text class="t16" x="157.2" y="687.9" text-anchor="end">analysis of</text>
<text class="t16" x="157.2" y="708.2" text-anchor="end"><tspan fill="#17923f">speckle</tspan> and lamina</text>
<text class="t16" x="157.2" y="728.4" text-anchor="end">associated</text>
<text class="t16" x="157.2" y="747.6" text-anchor="end">retained introns</text>

<rect x="220" y="786.8" width="1.3" height="2.2" fill="#4a4038"/>
<clipPath id="cF1"><rect x="169.6" y="644.1" width="117.1" height="112.8"/></clipPath>
<rect x="169.6" y="644.1" width="117.1" height="112.8" fill="#050308"/>
<g clip-path="url(#cF1)">
<ellipse cx="233.5" cy="700" rx="70" ry="51" transform="rotate(42 233.5 700)" fill="url(#gDapi)" filter="url(#bl3)"/>
<ellipse cx="176" cy="764" rx="22" ry="12" fill="#1a1768" filter="url(#bl3)"/>
<g filter="url(#bl2)">
<ellipse cx="197.5" cy="710.3" rx="5.5" ry="4.6" transform="rotate(47 197.5 710.3)" fill="#0f0d40" opacity="0.32"/>
<ellipse cx="241.7" cy="669.6" rx="5.2" ry="3.0" transform="rotate(137 241.7 669.6)" fill="#0f0d40" opacity="0.25"/>
<ellipse cx="245.3" cy="663.7" rx="7.8" ry="4.8" transform="rotate(157 245.3 663.7)" fill="#2b2a96" opacity="0.50"/>
<ellipse cx="209.3" cy="670.1" rx="3.2" ry="5.6" transform="rotate(153 209.3 670.1)" fill="#0f0d40" opacity="0.22"/>
<ellipse cx="262.3" cy="706.0" rx="5.6" ry="4.7" transform="rotate(127 262.3 706.0)" fill="#2b2a96" opacity="0.46"/>
<ellipse cx="244.6" cy="700.4" rx="5.8" ry="5.8" transform="rotate(21 244.6 700.4)" fill="#0f0d40" opacity="0.30"/>
<ellipse cx="224.1" cy="674.6" rx="3.4" ry="5.2" transform="rotate(102 224.1 674.6)" fill="#2b2a96" opacity="0.32"/>
<ellipse cx="250.7" cy="715.8" rx="6.4" ry="3.2" transform="rotate(13 250.7 715.8)" fill="#2b2a96" opacity="0.25"/>
<ellipse cx="185.5" cy="708.7" rx="6.1" ry="5.2" transform="rotate(69 185.5 708.7)" fill="#2b2a96" opacity="0.27"/>
<ellipse cx="217.4" cy="722.3" rx="7.6" ry="3.0" transform="rotate(180 217.4 722.3)" fill="#2b2a96" opacity="0.35"/>
<ellipse cx="240.2" cy="706.8" rx="5.8" ry="4.1" transform="rotate(48 240.2 706.8)" fill="#0f0d40" opacity="0.24"/>
<ellipse cx="271.9" cy="696.2" rx="5.0" ry="6.0" transform="rotate(0 271.9 696.2)" fill="#2b2a96" opacity="0.35"/>
<ellipse cx="225.3" cy="745.8" rx="7.4" ry="3.2" transform="rotate(100 225.3 745.8)" fill="#0f0d40" opacity="0.28"/>
<ellipse cx="267.3" cy="699.1" rx="3.7" ry="4.0" transform="rotate(2 267.3 699.1)" fill="#0f0d40" opacity="0.21"/>
<ellipse cx="234.8" cy="673.4" rx="3.5" ry="4.5" transform="rotate(62 234.8 673.4)" fill="#2b2a96" opacity="0.27"/>
<ellipse cx="259.3" cy="702.8" rx="5.9" ry="5.4" transform="rotate(34 259.3 702.8)" fill="#0f0d40" opacity="0.23"/>
<ellipse cx="244.4" cy="685.1" rx="7.1" ry="3.4" transform="rotate(48 244.4 685.1)" fill="#2b2a96" opacity="0.48"/>
<ellipse cx="251.2" cy="731.1" rx="4.9" ry="4.2" transform="rotate(20 251.2 731.1)" fill="#0f0d40" opacity="0.37"/>
<ellipse cx="217.7" cy="707.1" rx="4.2" ry="5.0" transform="rotate(65 217.7 707.1)" fill="#2b2a96" opacity="0.49"/>
<ellipse cx="191.9" cy="721.2" rx="7.6" ry="5.9" transform="rotate(32 191.9 721.2)" fill="#2b2a96" opacity="0.38"/>
<ellipse cx="235.7" cy="734.7" rx="4.4" ry="5.7" transform="rotate(52 235.7 734.7)" fill="#0f0d40" opacity="0.35"/>
<ellipse cx="230.9" cy="687.7" rx="3.2" ry="3.5" transform="rotate(135 230.9 687.7)" fill="#2b2a96" opacity="0.31"/>
<ellipse cx="215.7" cy="692.6" rx="7.9" ry="4.8" transform="rotate(176 215.7 692.6)" fill="#2b2a96" opacity="0.47"/>
<ellipse cx="185.9" cy="693.7" rx="5.4" ry="3.8" transform="rotate(79 185.9 693.7)" fill="#0f0d40" opacity="0.43"/>
<ellipse cx="237.6" cy="698.4" rx="6.7" ry="3.6" transform="rotate(18 237.6 698.4)" fill="#0f0d40" opacity="0.32"/>
<ellipse cx="261.8" cy="715.8" rx="6.7" ry="5.0" transform="rotate(87 261.8 715.8)" fill="#0f0d40" opacity="0.43"/>
</g>
<ellipse cx="238.9" cy="715.7" rx="12" ry="11" fill="#121050" opacity=".85" filter="url(#bl3)"/>
<g filter="url(#bl2)">
<ellipse cx="208.2" cy="661.3" rx="10.1" ry="4.0" transform="rotate(-45 208.2 661.3)" fill="#2f7fd0" opacity="0.55"/>
<ellipse cx="245.1" cy="667.8" rx="5.0" ry="4.1" transform="rotate(0 245.1 667.8)" fill="#2f7fd0" opacity="0.55"/>
<ellipse cx="188.1" cy="669.2" rx="3.2" ry="3.2" transform="rotate(0 188.1 669.2)" fill="#2f7fd0" opacity="0.22"/>
<ellipse cx="210.5" cy="687.1" rx="6.4" ry="5.4" transform="rotate(10 210.5 687.1)" fill="#2f7fd0" opacity="0.55"/>
<ellipse cx="188.4" cy="691.1" rx="3.8" ry="3.8" transform="rotate(0 188.4 691.1)" fill="#2f7fd0" opacity="0.44"/>
<ellipse cx="224.0" cy="693.8" rx="5.0" ry="6.8" transform="rotate(-20 224.0 693.8)" fill="#2f7fd0" opacity="0.55"/>
<ellipse cx="255.6" cy="693.8" rx="9.6" ry="4.9" transform="rotate(28 255.6 693.8)" fill="#2f7fd0" opacity="0.55"/>
<ellipse cx="239.3" cy="699.9" rx="6.8" ry="4.4" transform="rotate(10 239.3 699.9)" fill="#2f7fd0" opacity="0.44"/>
<ellipse cx="212.6" cy="705.2" rx="5.4" ry="5.4" transform="rotate(0 212.6 705.2)" fill="#2f7fd0" opacity="0.55"/>
<ellipse cx="220.5" cy="707.8" rx="4.2" ry="4.2" transform="rotate(0 220.5 707.8)" fill="#2f7fd0" opacity="0.47"/>
<ellipse cx="193.3" cy="706.1" rx="3.1" ry="3.1" transform="rotate(0 193.3 706.1)" fill="#2f7fd0" opacity="0.22"/>
<ellipse cx="210.9" cy="721.0" rx="6.6" ry="8.1" transform="rotate(-10 210.9 721.0)" fill="#2f7fd0" opacity="0.55"/>
<ellipse cx="257.4" cy="713.1" rx="6.0" ry="8.6" transform="rotate(-15 257.4 713.1)" fill="#2f7fd0" opacity="0.55"/>
<ellipse cx="265.3" cy="724.5" rx="7.6" ry="6.6" transform="rotate(20 265.3 724.5)" fill="#2f7fd0" opacity="0.55"/>
<ellipse cx="273.2" cy="721.0" rx="4.6" ry="3.4" transform="rotate(0 273.2 721.0)" fill="#2f7fd0" opacity="0.44"/>
<ellipse cx="282.8" cy="725.9" rx="3.0" ry="3.0" transform="rotate(0 282.8 725.9)" fill="#2f7fd0" opacity="0.33"/>
<ellipse cx="274.0" cy="731.5" rx="3.2" ry="3.2" transform="rotate(0 274.0 731.5)" fill="#2f7fd0" opacity="0.33"/>
<ellipse cx="217.0" cy="730.6" rx="5.0" ry="7.6" transform="rotate(-10 217.0 730.6)" fill="#2f7fd0" opacity="0.55"/>
<ellipse cx="227.5" cy="735.9" rx="7.6" ry="6.4" transform="rotate(0 227.5 735.9)" fill="#2f7fd0" opacity="0.55"/>
<ellipse cx="238.9" cy="734.1" rx="6.8" ry="5.0" transform="rotate(-10 238.9 734.1)" fill="#2f7fd0" opacity="0.55"/>
<ellipse cx="253.0" cy="735.0" rx="5.6" ry="3.8" transform="rotate(-10 253.0 735.0)" fill="#2f7fd0" opacity="0.50"/>
</g><g filter="url(#bl1)">
<ellipse cx="208.2" cy="661.3" rx="8.5" ry="2.4" transform="rotate(-45 208.2 661.3)" fill="#5cc8a4" opacity="1.00"/>
<ellipse cx="245.1" cy="667.8" rx="3.4" ry="2.5" transform="rotate(0 245.1 667.8)" fill="#5cc8a4" opacity="1.00"/>
<ellipse cx="188.1" cy="669.2" rx="1.6" ry="1.6" transform="rotate(0 188.1 669.2)" fill="#5cc8a4" opacity="0.40"/>
<ellipse cx="210.5" cy="687.1" rx="4.8" ry="3.8" transform="rotate(10 210.5 687.1)" fill="#5cc8a4" opacity="1.00"/>
<ellipse cx="188.4" cy="691.1" rx="2.2" ry="2.2" transform="rotate(0 188.4 691.1)" fill="#5cc8a4" opacity="0.80"/>
<ellipse cx="224.0" cy="693.8" rx="3.4" ry="5.2" transform="rotate(-20 224.0 693.8)" fill="#5cc8a4" opacity="1.00"/>
<ellipse cx="255.6" cy="693.8" rx="8.0" ry="3.3" transform="rotate(28 255.6 693.8)" fill="#5cc8a4" opacity="1.00"/>
<ellipse cx="239.3" cy="699.9" rx="5.2" ry="2.8" transform="rotate(10 239.3 699.9)" fill="#5cc8a4" opacity="0.80"/>
<ellipse cx="212.6" cy="705.2" rx="3.8" ry="3.8" transform="rotate(0 212.6 705.2)" fill="#5cc8a4" opacity="1.00"/>
<ellipse cx="220.5" cy="707.8" rx="2.6" ry="2.6" transform="rotate(0 220.5 707.8)" fill="#5cc8a4" opacity="0.85"/>
<ellipse cx="193.3" cy="706.1" rx="1.5" ry="1.5" transform="rotate(0 193.3 706.1)" fill="#5cc8a4" opacity="0.40"/>
<ellipse cx="210.9" cy="721.0" rx="5.0" ry="6.5" transform="rotate(-10 210.9 721.0)" fill="#5cc8a4" opacity="1.00"/>
<ellipse cx="257.4" cy="713.1" rx="4.4" ry="7.0" transform="rotate(-15 257.4 713.1)" fill="#5cc8a4" opacity="1.00"/>
<ellipse cx="265.3" cy="724.5" rx="6.0" ry="5.0" transform="rotate(20 265.3 724.5)" fill="#5cc8a4" opacity="1.00"/>
<ellipse cx="273.2" cy="721.0" rx="3.0" ry="1.8" transform="rotate(0 273.2 721.0)" fill="#5cc8a4" opacity="0.80"/>
<ellipse cx="282.8" cy="725.9" rx="1.4" ry="1.4" transform="rotate(0 282.8 725.9)" fill="#5cc8a4" opacity="0.60"/>
<ellipse cx="274.0" cy="731.5" rx="1.6" ry="1.6" transform="rotate(0 274.0 731.5)" fill="#5cc8a4" opacity="0.60"/>
<ellipse cx="217.0" cy="730.6" rx="3.4" ry="6.0" transform="rotate(-10 217.0 730.6)" fill="#5cc8a4" opacity="1.00"/>
<ellipse cx="227.5" cy="735.9" rx="6.0" ry="4.8" transform="rotate(0 227.5 735.9)" fill="#5cc8a4" opacity="1.00"/>
<ellipse cx="238.9" cy="734.1" rx="5.2" ry="3.4" transform="rotate(-10 238.9 734.1)" fill="#5cc8a4" opacity="1.00"/>
<ellipse cx="253.0" cy="735.0" rx="4.0" ry="2.2" transform="rotate(-10 253.0 735.0)" fill="#5cc8a4" opacity="0.90"/>
</g><g filter="url(#bl05)">
<circle cx="248.6" cy="668.3" r="1.0" fill="#ff3060"/>
<circle cx="246.5" cy="683.6" r="1.1" fill="#ff2050"/>
<circle cx="248.2" cy="685.2" r="1.4" fill="#ffffff"/>
<circle cx="259.1" cy="724.1" r="1.1" fill="#ff2050"/>
<circle cx="260.4" cy="725.7" r="1.6" fill="#ffffff"/>
</g></g>
<clipPath id="cF2"><rect x="312.6" y="644.1" width="120.4" height="112.8"/></clipPath>
<rect x="312.6" y="644.1" width="120.4" height="112.8" fill="#050308"/>
<g clip-path="url(#cF2)">
<path d="M358.8,642.9C366.7,639.5 374.4,639.4 382.5,639.4C390.5,639.4 400.3,639.8 407.0,642.9C413.7,646.0 418.4,651.8 422.8,657.8C427.3,663.8 431.2,671.0 433.7,678.9C436.2,686.8 438.1,696.1 437.7,705.2C437.4,714.2 435.2,724.5 431.6,733.2C427.9,742.0 424.6,752.7 415.8,757.8C407.0,762.9 391.2,763.8 378.9,763.9C366.7,764.1 350.7,761.9 342.1,758.7C333.5,755.5 331.3,750.1 327.2,744.6C323.0,739.2 319.4,732.8 317.2,726.2C314.9,719.6 313.2,712.8 313.7,705.2C314.2,697.5 316.7,687.8 320.2,680.3C323.7,672.7 328.3,666.1 334.7,659.9C341.2,653.7 350.8,646.3 358.8,642.9Z" fill="url(#gDapi2)" filter="url(#bl4)"/>
<g filter="url(#bl2)">
<ellipse cx="411.9" cy="682.7" rx="6.0" ry="4.0" transform="rotate(135 411.9 682.7)" fill="#0f0d40" opacity="0.22"/>
<ellipse cx="353.8" cy="728.4" rx="6.1" ry="5.7" transform="rotate(27 353.8 728.4)" fill="#2b2a96" opacity="0.25"/>
<ellipse cx="405.9" cy="718.9" rx="6.7" ry="3.8" transform="rotate(14 405.9 718.9)" fill="#2b2a96" opacity="0.38"/>
<ellipse cx="378.1" cy="708.5" rx="4.1" ry="5.1" transform="rotate(144 378.1 708.5)" fill="#2b2a96" opacity="0.29"/>
<ellipse cx="377.5" cy="675.9" rx="4.6" ry="2.8" transform="rotate(121 377.5 675.9)" fill="#0f0d40" opacity="0.37"/>
<ellipse cx="388.6" cy="726.9" rx="3.8" ry="5.3" transform="rotate(136 388.6 726.9)" fill="#0f0d40" opacity="0.37"/>
<ellipse cx="359.4" cy="734.5" rx="3.5" ry="2.6" transform="rotate(70 359.4 734.5)" fill="#2b2a96" opacity="0.28"/>
<ellipse cx="396.4" cy="692.9" rx="7.5" ry="4.4" transform="rotate(116 396.4 692.9)" fill="#0f0d40" opacity="0.23"/>
<ellipse cx="355.9" cy="694.6" rx="6.5" ry="5.4" transform="rotate(60 355.9 694.6)" fill="#2b2a96" opacity="0.45"/>
<ellipse cx="368.6" cy="714.8" rx="4.9" ry="4.1" transform="rotate(8 368.6 714.8)" fill="#0f0d40" opacity="0.23"/>
<ellipse cx="401.1" cy="710.2" rx="6.4" ry="5.9" transform="rotate(14 401.1 710.2)" fill="#2b2a96" opacity="0.45"/>
<ellipse cx="336.0" cy="691.1" rx="7.9" ry="3.8" transform="rotate(49 336.0 691.1)" fill="#0f0d40" opacity="0.29"/>
<ellipse cx="396.7" cy="705.9" rx="5.3" ry="3.5" transform="rotate(23 396.7 705.9)" fill="#0f0d40" opacity="0.39"/>
<ellipse cx="400.0" cy="719.2" rx="7.1" ry="3.4" transform="rotate(107 400.0 719.2)" fill="#2b2a96" opacity="0.39"/>
<ellipse cx="378.3" cy="704.9" rx="5.1" ry="3.1" transform="rotate(157 378.3 704.9)" fill="#0f0d40" opacity="0.36"/>
<ellipse cx="365.9" cy="676.4" rx="6.2" ry="3.3" transform="rotate(75 365.9 676.4)" fill="#0f0d40" opacity="0.41"/>
<ellipse cx="355.8" cy="711.3" rx="3.3" ry="3.5" transform="rotate(6 355.8 711.3)" fill="#0f0d40" opacity="0.35"/>
<ellipse cx="359.8" cy="683.5" rx="4.2" ry="5.8" transform="rotate(20 359.8 683.5)" fill="#0f0d40" opacity="0.41"/>
<ellipse cx="358.0" cy="730.2" rx="7.8" ry="5.3" transform="rotate(69 358.0 730.2)" fill="#2b2a96" opacity="0.47"/>
<ellipse cx="401.4" cy="701.6" rx="7.3" ry="3.2" transform="rotate(174 401.4 701.6)" fill="#0f0d40" opacity="0.24"/>
<ellipse cx="408.9" cy="707.3" rx="5.1" ry="3.5" transform="rotate(152 408.9 707.3)" fill="#0f0d40" opacity="0.44"/>
<ellipse cx="364.6" cy="672.8" rx="4.5" ry="5.6" transform="rotate(22 364.6 672.8)" fill="#0f0d40" opacity="0.33"/>
<ellipse cx="377.5" cy="711.2" rx="3.1" ry="4.1" transform="rotate(105 377.5 711.2)" fill="#0f0d40" opacity="0.29"/>
<ellipse cx="369.9" cy="723.6" rx="7.8" ry="3.7" transform="rotate(99 369.9 723.6)" fill="#2b2a96" opacity="0.33"/>
<ellipse cx="413.6" cy="711.4" rx="7.4" ry="4.4" transform="rotate(176 413.6 711.4)" fill="#0f0d40" opacity="0.39"/>
<ellipse cx="392.4" cy="711.2" rx="5.5" ry="2.9" transform="rotate(118 392.4 711.2)" fill="#2b2a96" opacity="0.46"/>
</g>
<g filter="url(#bl2)">
<ellipse cx="359.6" cy="672.7" rx="5.5" ry="6.5" transform="rotate(0 359.6 672.7)" fill="#2f7fd0" opacity="0.30"/>
<ellipse cx="386.8" cy="670.1" rx="6.6" ry="4.6" transform="rotate(-10 386.8 670.1)" fill="#2f7fd0" opacity="0.39"/>
<ellipse cx="410.2" cy="676.2" rx="5.2" ry="7.0" transform="rotate(0 410.2 676.2)" fill="#2f7fd0" opacity="0.55"/>
<ellipse cx="407.9" cy="687.6" rx="4.5" ry="5.0" transform="rotate(0 407.9 687.6)" fill="#2f7fd0" opacity="0.22"/>
<ellipse cx="355.8" cy="692.0" rx="5.8" ry="5.8" transform="rotate(0 355.8 692.0)" fill="#2f7fd0" opacity="0.44"/>
<ellipse cx="420.2" cy="698.2" rx="4.2" ry="5.0" transform="rotate(0 420.2 698.2)" fill="#2f7fd0" opacity="0.55"/>
<ellipse cx="349.6" cy="706.1" rx="8.5" ry="9.5" transform="rotate(0 349.6 706.1)" fill="#2f7fd0" opacity="0.55"/>
<ellipse cx="344.7" cy="698.2" rx="4.5" ry="5.0" transform="rotate(0 344.7 698.2)" fill="#2f7fd0" opacity="0.33"/>
<ellipse cx="361.4" cy="708.7" rx="7.0" ry="5.2" transform="rotate(20 361.4 708.7)" fill="#2f7fd0" opacity="0.41"/>
<ellipse cx="409.6" cy="711.3" rx="5.4" ry="5.4" transform="rotate(0 409.6 711.3)" fill="#2f7fd0" opacity="0.47"/>
<ellipse cx="402.6" cy="712.2" rx="4.4" ry="4.4" transform="rotate(0 402.6 712.2)" fill="#2f7fd0" opacity="0.22"/>
<ellipse cx="406.5" cy="724.5" rx="5.4" ry="6.0" transform="rotate(0 406.5 724.5)" fill="#2f7fd0" opacity="0.55"/>
<ellipse cx="387.2" cy="733.2" rx="6.8" ry="6.3" transform="rotate(0 387.2 733.2)" fill="#2f7fd0" opacity="0.55"/>
<ellipse cx="378.4" cy="739.9" rx="5.0" ry="3.8" transform="rotate(-35 378.4 739.9)" fill="#2f7fd0" opacity="0.39"/>
</g><g filter="url(#bl1)">
<ellipse cx="359.6" cy="672.7" rx="3.5" ry="4.5" transform="rotate(0 359.6 672.7)" fill="#3fa8d8" opacity="0.55"/>
<ellipse cx="386.8" cy="670.1" rx="4.6" ry="2.6" transform="rotate(-10 386.8 670.1)" fill="#45b4d0" opacity="0.70"/>
<ellipse cx="410.2" cy="676.2" rx="3.2" ry="5.0" transform="rotate(0 410.2 676.2)" fill="#52c8a8" opacity="1.00"/>
<ellipse cx="407.9" cy="687.6" rx="2.5" ry="3.0" transform="rotate(0 407.9 687.6)" fill="#3f90d8" opacity="0.40"/>
<ellipse cx="355.8" cy="692.0" rx="3.8" ry="3.8" transform="rotate(0 355.8 692.0)" fill="#45b0d8" opacity="0.80"/>
<ellipse cx="420.2" cy="698.2" rx="2.2" ry="3.0" transform="rotate(0 420.2 698.2)" fill="#52c8a0" opacity="1.00"/>
<ellipse cx="349.6" cy="706.1" rx="6.5" ry="7.5" transform="rotate(0 349.6 706.1)" fill="#60d0a0" opacity="1.00"/>
<ellipse cx="344.7" cy="698.2" rx="2.5" ry="3.0" transform="rotate(0 344.7 698.2)" fill="#45b0d8" opacity="0.60"/>
<ellipse cx="361.4" cy="708.7" rx="5.0" ry="3.2" transform="rotate(20 361.4 708.7)" fill="#50bcc8" opacity="0.75"/>
<ellipse cx="409.6" cy="711.3" rx="3.4" ry="3.4" transform="rotate(0 409.6 711.3)" fill="#45b4d0" opacity="0.85"/>
<ellipse cx="402.6" cy="712.2" rx="2.4" ry="2.4" transform="rotate(0 402.6 712.2)" fill="#3f90d8" opacity="0.40"/>
<ellipse cx="406.5" cy="724.5" rx="3.4" ry="4.0" transform="rotate(0 406.5 724.5)" fill="#55c8a0" opacity="1.00"/>
<ellipse cx="387.2" cy="733.2" rx="4.8" ry="4.3" transform="rotate(0 387.2 733.2)" fill="#60d0a0" opacity="1.00"/>
<ellipse cx="378.4" cy="739.9" rx="3.0" ry="1.8" transform="rotate(-35 378.4 739.9)" fill="#45b4d0" opacity="0.70"/>
</g><g filter="url(#bl05)">
<ellipse cx="394.7" cy="658.7" rx="3.6" ry="2" transform="rotate(-15 394.7 658.7)" fill="#e03090"/>
<ellipse cx="394.7" cy="658.7" rx="2.6" ry="1.2" transform="rotate(-15 394.7 658.7)" fill="#ffffff"/>
<ellipse cx="408.4" cy="737.6" rx="2.4" ry="4" transform="rotate(-28 408.4 737.6)" fill="#e8206a"/>
<ellipse cx="408.4" cy="737.6" rx="1.3" ry="2.6" transform="rotate(-28 408.4 737.6)" fill="#ffffff"/>
<circle cx="381.1" cy="735.9" r=".9" fill="#ff7090"/>
</g></g>

<!-- ============ BOTTOM RIGHT ============ -->
<text class="t28" x="478.1" y="343.8" textLength="296" lengthAdjust="spacingAndGlyphs">Regulatory properties</text>
<text class="t28" x="504.2" y="376.6" textLength="251.2" lengthAdjust="spacingAndGlyphs">of retained introns</text>

<text class="t19" x="700.4" y="438" text-anchor="middle">Cell/Tissue types</text>
<rect x="623.50" y="448.5" width="4.40" height="42.19999999999999" fill="#b52a1e"/>
<rect x="623.50" y="490.7" width="4.40" height="42.599999999999966" fill="#fbf6b0"/>
<rect x="627.70" y="448.5" width="4.40" height="42.19999999999999" fill="#c84a30"/>
<rect x="627.70" y="490.7" width="4.40" height="42.599999999999966" fill="#f8ec98"/>
<rect x="631.89" y="448.5" width="4.40" height="42.19999999999999" fill="#d4683c"/>
<rect x="631.89" y="490.7" width="4.40" height="42.599999999999966" fill="#9fb8e0"/>
<rect x="636.09" y="448.5" width="4.40" height="42.19999999999999" fill="#e8a050"/>
<rect x="636.09" y="490.7" width="4.40" height="42.599999999999966" fill="#c4d6ee"/>
<rect x="640.29" y="448.5" width="4.40" height="42.19999999999999" fill="#ecb050"/>
<rect x="640.29" y="490.7" width="4.40" height="42.599999999999966" fill="#d8e4f2"/>
<rect x="644.49" y="448.5" width="4.40" height="42.19999999999999" fill="#f0bc58"/>
<rect x="644.49" y="490.7" width="4.40" height="42.599999999999966" fill="#e4ecf4"/>
<rect x="648.68" y="448.5" width="4.40" height="42.19999999999999" fill="#f0c060"/>
<rect x="648.68" y="490.7" width="4.40" height="42.599999999999966" fill="#f8e890"/>
<rect x="652.88" y="448.5" width="4.40" height="42.19999999999999" fill="#f6d878"/>
<rect x="652.88" y="490.7" width="4.40" height="42.599999999999966" fill="#f2f0d0"/>
<rect x="657.08" y="448.5" width="4.40" height="42.19999999999999" fill="#f8e088"/>
<rect x="657.08" y="490.7" width="4.40" height="42.599999999999966" fill="#8aa4d8"/>
<rect x="661.27" y="448.5" width="4.40" height="42.19999999999999" fill="#f8e488"/>
<rect x="661.27" y="490.7" width="4.40" height="42.599999999999966" fill="#90a8da"/>
<rect x="665.47" y="448.5" width="4.40" height="42.19999999999999" fill="#faec98"/>
<rect x="665.47" y="490.7" width="4.40" height="42.599999999999966" fill="#7c98d2"/>
<rect x="669.67" y="448.5" width="4.40" height="42.19999999999999" fill="#f8e890"/>
<rect x="669.67" y="490.7" width="4.40" height="42.599999999999966" fill="#eef2f0"/>
<rect x="673.87" y="448.5" width="4.40" height="42.19999999999999" fill="#faeea0"/>
<rect x="673.87" y="490.7" width="4.40" height="42.599999999999966" fill="#a8c0e4"/>
<rect x="678.06" y="448.5" width="4.40" height="42.19999999999999" fill="#f8eaa0"/>
<rect x="678.06" y="490.7" width="4.40" height="42.599999999999966" fill="#94acdc"/>
<rect x="682.26" y="448.5" width="4.40" height="42.19999999999999" fill="#faf0a8"/>
<rect x="682.26" y="490.7" width="4.40" height="42.599999999999966" fill="#7c96d0"/>
<rect x="686.46" y="448.5" width="4.40" height="42.19999999999999" fill="#faf2b0"/>
<rect x="686.46" y="490.7" width="4.40" height="42.599999999999966" fill="#8ca6d8"/>
<rect x="690.66" y="448.5" width="4.40" height="42.19999999999999" fill="#faf4b8"/>
<rect x="690.66" y="490.7" width="4.40" height="42.599999999999966" fill="#88a2d6"/>
<rect x="694.85" y="448.5" width="4.40" height="42.19999999999999" fill="#f6f0b8"/>
<rect x="694.85" y="490.7" width="4.40" height="42.599999999999966" fill="#a0b8e0"/>
<rect x="699.05" y="448.5" width="4.40" height="42.19999999999999" fill="#f8f4c8"/>
<rect x="699.05" y="490.7" width="4.40" height="42.599999999999966" fill="#b0c6e8"/>
<rect x="703.25" y="448.5" width="4.40" height="42.19999999999999" fill="#f6f2c8"/>
<rect x="703.25" y="490.7" width="4.40" height="42.599999999999966" fill="#a8bee4"/>
<rect x="707.44" y="448.5" width="4.40" height="42.19999999999999" fill="#f6f4d0"/>
<rect x="707.44" y="490.7" width="4.40" height="42.599999999999966" fill="#8ea8da"/>
<rect x="711.64" y="448.5" width="4.40" height="42.19999999999999" fill="#f4f4d8"/>
<rect x="711.64" y="490.7" width="4.40" height="42.599999999999966" fill="#98b0de"/>
<rect x="715.84" y="448.5" width="4.40" height="42.19999999999999" fill="#f0f2dc"/>
<rect x="715.84" y="490.7" width="4.40" height="42.599999999999966" fill="#6f8aca"/>
<rect x="720.04" y="448.5" width="4.40" height="42.19999999999999" fill="#f2f4e0"/>
<rect x="720.04" y="490.7" width="4.40" height="42.599999999999966" fill="#6f8aca"/>
<rect x="724.23" y="448.5" width="4.40" height="42.19999999999999" fill="#eef4e4"/>
<rect x="724.23" y="490.7" width="4.40" height="42.599999999999966" fill="#a8c0e6"/>
<rect x="728.43" y="448.5" width="4.40" height="42.19999999999999" fill="#eef4e8"/>
<rect x="728.43" y="490.7" width="4.40" height="42.599999999999966" fill="#7890cc"/>
<rect x="732.63" y="448.5" width="4.40" height="42.19999999999999" fill="#eaf2ea"/>
<rect x="732.63" y="490.7" width="4.40" height="42.599999999999966" fill="#728ccb"/>
<rect x="736.83" y="448.5" width="4.40" height="42.19999999999999" fill="#eaf2ee"/>
<rect x="736.83" y="490.7" width="4.40" height="42.599999999999966" fill="#7890cc"/>
<rect x="741.02" y="448.5" width="4.40" height="42.19999999999999" fill="#e8f0f0"/>
<rect x="741.02" y="490.7" width="4.40" height="42.599999999999966" fill="#6f8aca"/>
<rect x="745.22" y="448.5" width="4.40" height="42.19999999999999" fill="#e0ecf2"/>
<rect x="745.22" y="490.7" width="4.40" height="42.599999999999966" fill="#c8daf0"/>
<rect x="749.42" y="448.5" width="4.40" height="42.19999999999999" fill="#dceaf4"/>
<rect x="749.42" y="490.7" width="4.40" height="42.599999999999966" fill="#d0e0f2"/>
<rect x="753.61" y="448.5" width="4.40" height="42.19999999999999" fill="#d8e6f2"/>
<rect x="753.61" y="490.7" width="4.40" height="42.599999999999966" fill="#7890cc"/>
<rect x="757.81" y="448.5" width="4.40" height="42.19999999999999" fill="#dce8f4"/>
<rect x="757.81" y="490.7" width="4.40" height="42.599999999999966" fill="#6f8aca"/>
<rect x="762.01" y="448.5" width="4.40" height="42.19999999999999" fill="#d0e0f0"/>
<rect x="762.01" y="490.7" width="4.40" height="42.599999999999966" fill="#6c86c8"/>
<rect x="766.21" y="448.5" width="4.40" height="42.19999999999999" fill="#c8dcf0"/>
<rect x="766.21" y="490.7" width="4.40" height="42.599999999999966" fill="#6c86c8"/>
<rect x="770.40" y="448.5" width="4.40" height="42.19999999999999" fill="#c4d8ee"/>
<rect x="770.40" y="490.7" width="4.40" height="42.599999999999966" fill="#6f8aca"/>
<line x1="627.70" y1="448.5" x2="627.70" y2="533.3" stroke="#8a8a7a" stroke-width=".6" opacity=".7"/>
<line x1="631.89" y1="448.5" x2="631.89" y2="533.3" stroke="#8a8a7a" stroke-width=".6" opacity=".7"/>
<line x1="636.09" y1="448.5" x2="636.09" y2="533.3" stroke="#8a8a7a" stroke-width=".6" opacity=".7"/>
<line x1="640.29" y1="448.5" x2="640.29" y2="533.3" stroke="#8a8a7a" stroke-width=".6" opacity=".7"/>
<line x1="644.49" y1="448.5" x2="644.49" y2="533.3" stroke="#8a8a7a" stroke-width=".6" opacity=".7"/>
<line x1="648.68" y1="448.5" x2="648.68" y2="533.3" stroke="#8a8a7a" stroke-width=".6" opacity=".7"/>
<line x1="652.88" y1="448.5" x2="652.88" y2="533.3" stroke="#8a8a7a" stroke-width=".6" opacity=".7"/>
<line x1="657.08" y1="448.5" x2="657.08" y2="533.3" stroke="#8a8a7a" stroke-width=".6" opacity=".7"/>
<line x1="661.27" y1="448.5" x2="661.27" y2="533.3" stroke="#8a8a7a" stroke-width=".6" opacity=".7"/>
<line x1="665.47" y1="448.5" x2="665.47" y2="533.3" stroke="#8a8a7a" stroke-width=".6" opacity=".7"/>
<line x1="669.67" y1="448.5" x2="669.67" y2="533.3" stroke="#8a8a7a" stroke-width=".6" opacity=".7"/>
<line x1="673.87" y1="448.5" x2="673.87" y2="533.3" stroke="#8a8a7a" stroke-width=".6" opacity=".7"/>
<line x1="678.06" y1="448.5" x2="678.06" y2="533.3" stroke="#8a8a7a" stroke-width=".6" opacity=".7"/>
<line x1="682.26" y1="448.5" x2="682.26" y2="533.3" stroke="#8a8a7a" stroke-width=".6" opacity=".7"/>
<line x1="686.46" y1="448.5" x2="686.46" y2="533.3" stroke="#8a8a7a" stroke-width=".6" opacity=".7"/>
<line x1="690.66" y1="448.5" x2="690.66" y2="533.3" stroke="#8a8a7a" stroke-width=".6" opacity=".7"/>
<line x1="694.85" y1="448.5" x2="694.85" y2="533.3" stroke="#8a8a7a" stroke-width=".6" opacity=".7"/>
<line x1="699.05" y1="448.5" x2="699.05" y2="533.3" stroke="#8a8a7a" stroke-width=".6" opacity=".7"/>
<line x1="703.25" y1="448.5" x2="703.25" y2="533.3" stroke="#8a8a7a" stroke-width=".6" opacity=".7"/>
<line x1="707.44" y1="448.5" x2="707.44" y2="533.3" stroke="#8a8a7a" stroke-width=".6" opacity=".7"/>
<line x1="711.64" y1="448.5" x2="711.64" y2="533.3" stroke="#8a8a7a" stroke-width=".6" opacity=".7"/>
<line x1="715.84" y1="448.5" x2="715.84" y2="533.3" stroke="#8a8a7a" stroke-width=".6" opacity=".7"/>
<line x1="720.04" y1="448.5" x2="720.04" y2="533.3" stroke="#8a8a7a" stroke-width=".6" opacity=".7"/>
<line x1="724.23" y1="448.5" x2="724.23" y2="533.3" stroke="#8a8a7a" stroke-width=".6" opacity=".7"/>
<line x1="728.43" y1="448.5" x2="728.43" y2="533.3" stroke="#8a8a7a" stroke-width=".6" opacity=".7"/>
<line x1="732.63" y1="448.5" x2="732.63" y2="533.3" stroke="#8a8a7a" stroke-width=".6" opacity=".7"/>
<line x1="736.83" y1="448.5" x2="736.83" y2="533.3" stroke="#8a8a7a" stroke-width=".6" opacity=".7"/>
<line x1="741.02" y1="448.5" x2="741.02" y2="533.3" stroke="#8a8a7a" stroke-width=".6" opacity=".7"/>
<line x1="745.22" y1="448.5" x2="745.22" y2="533.3" stroke="#8a8a7a" stroke-width=".6" opacity=".7"/>
<line x1="749.42" y1="448.5" x2="749.42" y2="533.3" stroke="#8a8a7a" stroke-width=".6" opacity=".7"/>
<line x1="753.61" y1="448.5" x2="753.61" y2="533.3" stroke="#8a8a7a" stroke-width=".6" opacity=".7"/>
<line x1="757.81" y1="448.5" x2="757.81" y2="533.3" stroke="#8a8a7a" stroke-width=".6" opacity=".7"/>
<line x1="762.01" y1="448.5" x2="762.01" y2="533.3" stroke="#8a8a7a" stroke-width=".6" opacity=".7"/>
<line x1="766.21" y1="448.5" x2="766.21" y2="533.3" stroke="#8a8a7a" stroke-width=".6" opacity=".7"/>
<line x1="770.40" y1="448.5" x2="770.40" y2="533.3" stroke="#8a8a7a" stroke-width=".6" opacity=".7"/>
<rect x="623.5" y="448.5" width="151.10000000000002" height="84.79999999999995" fill="none" stroke="#2a2a2a" stroke-width="1.3"/>
<rect x="656.2" y="545.5" width="91" height="5.6" fill="url(#gBar)"/>
<text class="t19" x="700.6" y="571.3" text-anchor="middle">Retention level</text>

<line x1="548" y1="469" x2="569" y2="469" stroke="#c41a1a" stroke-width="3.2"/>
<rect x="517.9" y="462.1" width="31.1" height="13.8" rx="6.9" fill="#cdcdcd" stroke="#0c0c0c" stroke-width="2.6"/>
<rect x="568.2" y="462.1" width="30.6" height="13.8" rx="6.9" fill="#cdcdcd" stroke="#0c0c0c" stroke-width="2.6"/>
<line x1="494" y1="514.6" x2="575" y2="514.6" stroke="#3655b2" stroke-width="4.2"/>
<rect x="462.9" y="507.7" width="31.5" height="13.8" rx="6.9" fill="#cdcdcd" stroke="#0c0c0c" stroke-width="2.6"/>
<rect x="573.8" y="507.7" width="31.0" height="13.8" rx="6.9" fill="#cdcdcd" stroke="#0c0c0c" stroke-width="2.6"/>

<!-- chart -->
<text class="t19" x="639.6" y="629.3" text-anchor="middle">Speckle-associated introns</text>
<path d="M538.6,646.8 L540.0,650.7 L555.2,671.1 L573.4,694.3 L595.2,723.3 L599.4,726.4 L601.0,725.1 L599.4,720.1 L577.6,691.1 L559.9,667.6 L544.1,647.6 L540.7,645.2Z" fill="#cb841d"/>
<path d="M544.9,652.6L571.1,687.0" stroke="#d3932f" stroke-width="0.7" stroke-linecap="round" fill="none"/>
<path d="M546.8,652.6L580.5,697.3" stroke="#dba040" stroke-width="0.8" stroke-linecap="round" fill="none"/>
<path d="M541.1,650.9L569.1,687.0" stroke="#d3932f" stroke-width="0.8" stroke-linecap="round" fill="none"/>
<path d="M537.5,647.9L568.9,688.1" stroke="#d3932f" stroke-width="1.3" stroke-linecap="round" fill="none"/>
<path d="M599.3,725.8 L602.5,723.0 L615.2,701.7 L629.4,678.4 L646.1,649.5 L647.1,644.3 L645.7,643.5 L641.8,647.0 L624.2,675.4 L610.4,699.0 L598.4,720.6 L597.1,724.5Z" fill="#cb841d"/>
<path d="M598.4,721.1L615.2,693.5" stroke="#c67d18" stroke-width="1.1" stroke-linecap="round" fill="none"/>
<path d="M601.3,722.8L618.4,693.3" stroke="#cb841d" stroke-width="1.0" stroke-linecap="round" fill="none"/>
<path d="M606.0,710.2L629.1,671.4" stroke="#c67d18" stroke-width="0.9" stroke-linecap="round" fill="none"/>
<path d="M616.8,699.3L633.6,669.6" stroke="#dba040" stroke-width="0.7" stroke-linecap="round" fill="none"/>
<path d="M643.3,645.3 L645.0,649.0 L662.1,670.6 L680.1,694.6 L703.5,723.2 L707.6,726.4 L709.3,725.0 L707.7,720.0 L684.6,691.0 L665.9,667.6 L648.4,646.3 L645.2,643.7Z" fill="#cb841d"/>
<path d="M657.4,659.5L689.6,700.4" stroke="#c67d18" stroke-width="1.1" stroke-linecap="round" fill="none"/>
<path d="M652.0,656.7L674.2,684.2" stroke="#dba040" stroke-width="1.4" stroke-linecap="round" fill="none"/>
<path d="M654.6,653.4L683.0,690.1" stroke="#d3932f" stroke-width="0.9" stroke-linecap="round" fill="none"/>
<path d="M655.2,662.1L677.9,690.0" stroke="#cb841d" stroke-width="0.9" stroke-linecap="round" fill="none"/>
<path d="M707.9,726.0 L710.8,723.1 L723.7,701.5 L737.5,677.6 L753.8,650.3 L755.0,645.2 L753.2,644.1 L749.7,647.9 L732.9,674.9 L718.9,698.7 L706.8,720.7 L705.5,724.6Z" fill="#cb841d"/>
<path d="M716.7,705.2L731.0,681.4" stroke="#c67d18" stroke-width="1.3" stroke-linecap="round" fill="none"/>
<path d="M709.9,717.7L737.7,670.7" stroke="#d3932f" stroke-width="1.1" stroke-linecap="round" fill="none"/>
<path d="M710.6,721.9L729.1,689.8" stroke="#d3932f" stroke-width="0.7" stroke-linecap="round" fill="none"/>
<path d="M709.3,719.8L736.1,674.4" stroke="#d3932f" stroke-width="1.4" stroke-linecap="round" fill="none"/>
<path d="M532 642.8 V733.9 H763" fill="none" stroke="#333" stroke-width="1.6"/>
<line x1="647.3" y1="733.9" x2="647.3" y2="746" stroke="#333" stroke-width="1.6"/>
<text x="592.5" y="761.7" text-anchor="middle" style="font-size:20.5px">1</text>
<text x="701.6" y="761.7" text-anchor="middle" style="font-size:20.5px">2</text>
<text class="t19" x="647.5" y="782.8" text-anchor="middle">Cell cycle round</text>
<text class="t19" transform="translate(505.3,683.9) rotate(-90)" text-anchor="middle">Retention</text>
<text class="t19" transform="translate(523.5,682) rotate(-90)" text-anchor="middle">level</text>
</svg>
</body>
</html>
